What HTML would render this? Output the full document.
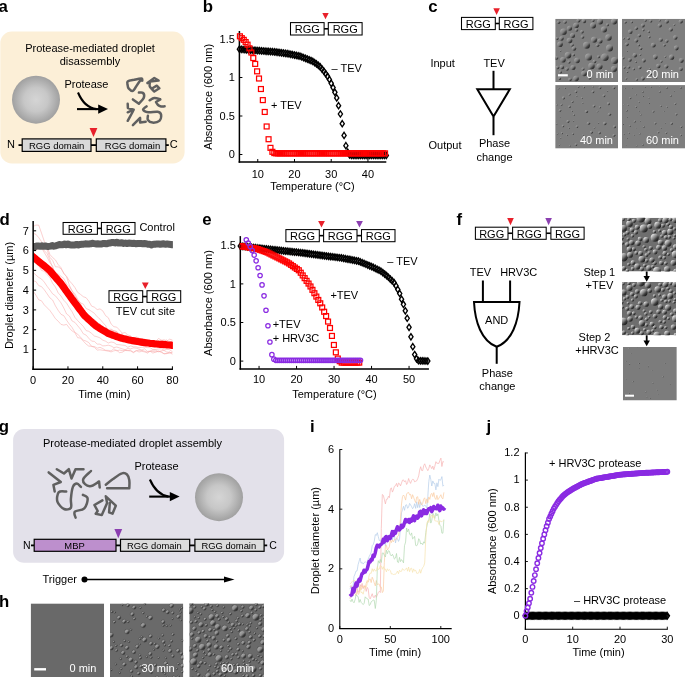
<!DOCTYPE html>
<html><head><meta charset="utf-8"><title>Figure</title>
<style>html,body{margin:0;padding:0;background:#fff}svg{display:block}text{font-family:"Liberation Sans",Arial,Helvetica,sans-serif}</style>
</head><body>
<svg width="685" height="677" viewBox="0 0 685 677">
<defs>
<radialGradient id="sph" cx="0.5" cy="0.5" r="0.5"><stop offset="0" stop-color="#d5d5d5"/><stop offset="0.5" stop-color="#c7c7c7"/><stop offset="1" stop-color="#a0a0a0"/></radialGradient>
<linearGradient id="dic" x1="0" y1="0" x2="1" y2="1"><stop offset="0.15" stop-color="#a6a6a6"/><stop offset="0.34" stop-color="#8f8f8f"/><stop offset="0.5" stop-color="#7e7e7e"/><stop offset="0.66" stop-color="#484848"/><stop offset="0.82" stop-color="#2a2a2a"/></linearGradient>
<linearGradient id="dicf" x1="0" y1="0" x2="1" y2="1"><stop offset="0.13" stop-color="#f0f0f0"/><stop offset="0.3" stop-color="#b4b4b4"/><stop offset="0.48" stop-color="#808080"/><stop offset="0.64" stop-color="#404040"/><stop offset="0.8" stop-color="#222"/></linearGradient>
<linearGradient id="dich" x1="0" y1="0" x2="1" y2="1"><stop offset="0.1" stop-color="#5a5a5a"/><stop offset="0.24" stop-color="#a6a6a6"/><stop offset="0.5" stop-color="#8e8e8e"/><stop offset="0.68" stop-color="#404040"/><stop offset="0.84" stop-color="#242424"/></linearGradient>
</defs>
<rect width="685" height="677" fill="#fff"/>
<text x="-1.5" y="12" font-size="16.8" font-weight="bold" fill="#000">a</text>
<rect x="0.30" y="31.60" width="184.30" height="131.80" fill="#fcefd7" stroke="none" stroke-width="1" rx="11.5"/>
<text x="90" y="51.8" font-size="11" text-anchor="middle" fill="#000">Protease-mediated droplet</text>
<text x="90" y="64.8" font-size="11" text-anchor="middle" fill="#000">disassembly</text>
<circle cx="36" cy="99.7" r="24" fill="url(#sph)"/>
<text x="64.4" y="87.7" font-size="11" fill="#000">Protease</text>
<path d="M78 92.5C82 102 87 108 96.5 109.1" fill="none" stroke="#000" stroke-width="2.1"/>
<line x1="77.00" y1="109.10" x2="100.00" y2="109.10" stroke="#000" stroke-width="2.1"/>
<polygon points="98.2,104.4 108,109.1 98.2,113.8" fill="#000"/>
<g fill="none" stroke="#606060" stroke-width="2.5" stroke-linecap="round" stroke-linejoin="round"><path d="M142.3 80.6C142.2 80.3 142.6 78.5 141.4 78.4C140.2 78.3 136.1 79.3 134.0 79.8C131.9 80.2 128.7 80.6 127.7 81.4C126.7 82.2 127.5 84.0 127.6 85.0C127.7 86.0 127.8 87.4 128.6 88.3C129.4 89.2 131.6 91.4 132.9 90.9C134.2 90.4 135.9 86.5 137.1 84.9C138.3 83.3 140.1 80.8 140.6 80.1"/><path d="M147.4 83.1L154.3 78.0L158.6 80.6L150.0 81.6M150.0 81.6C150.0 82.4 149.1 84.9 149.8 86.6C150.5 88.2 153.6 90.7 154.3 91.5M154.3 91.5L159.4 88.3L156.8 85.7L152.0 88.5"/><path d="M138.9 92.6C139.7 92.7 142.1 92.0 143.1 93.0C144.1 94.0 144.6 95.6 143.8 97.7C143.0 99.8 139.9 102.5 138.9 103.7M138.9 103.7L132.9 99.4"/><path d="M149.6 100.3C150.5 99.9 152.2 98.3 154.3 98.1C156.4 97.9 159.1 99.1 160.3 99.4M160.3 99.4L156.0 102.0M156.0 102.0C156.4 102.6 157.0 104.1 158.0 105.0C159.0 105.9 159.8 106.2 161.1 106.5C162.4 106.8 163.9 106.3 164.6 106.3"/><path d="M127.7 103.7L127.9 108.0L133.7 109.7L127.7 112.3M133.7 109.7C133.3 110.4 132.5 112.2 131.5 114.0C130.5 115.8 128.3 119.7 127.7 120.8"/><path d="M146.6 106.3C146.0 106.9 142.8 108.7 143.1 109.7C143.4 110.7 145.9 112.0 148.3 112.3C150.7 112.6 155.6 111.4 157.7 111.8C159.8 112.2 160.8 113.3 161.1 114.8C161.4 116.3 160.8 119.5 159.4 120.8C158.0 122.1 154.5 122.7 152.6 122.6C150.7 122.5 148.7 121.2 147.9 120.0C147.1 118.8 147.9 116.4 147.9 115.7"/><path d="M132.9 125.1L140.1 117.8L140.1 122.6L145.7 121.7"/></g>
<text x="7" y="148.3" font-size="11" fill="#000">N</text>
<line x1="18.50" y1="145.10" x2="22.20" y2="145.10" stroke="#000" stroke-width="1.8"/>
<rect x="22.20" y="138.90" width="68.80" height="12.50" fill="#d9d9d9" stroke="#000" stroke-width="1.2"/>
<line x1="91.00" y1="145.10" x2="96.30" y2="145.10" stroke="#000" stroke-width="1.8"/>
<rect x="96.30" y="138.90" width="69.60" height="12.50" fill="#d9d9d9" stroke="#000" stroke-width="1.2"/>
<line x1="165.90" y1="145.10" x2="168.80" y2="145.10" stroke="#000" stroke-width="1.8"/>
<text x="56.6" y="148.8" font-size="9.5" text-anchor="middle" fill="#000">RGG domain</text>
<text x="132.5" y="148.8" font-size="9.5" text-anchor="middle" fill="#000">RGG domain</text>
<text x="169.8" y="148.3" font-size="11" fill="#000">C</text>
<polygon points="89.60,128.00 97.40,128.00 93.50,137.00" fill="#e8202a"/>
<text x="202.8" y="12" font-size="16.8" font-weight="bold" fill="#000">b</text>
<rect x="290.50" y="22.60" width="33.60" height="12.40" fill="#fff" stroke="#000" stroke-width="1.05"/>
<text x="307.3" y="33.2" font-size="11" text-anchor="middle" fill="#000">RGG</text>
<line x1="324.10" y1="28.80" x2="328.30" y2="28.80" stroke="#000" stroke-width="1.6"/>
<rect x="328.30" y="22.60" width="33.80" height="12.40" fill="#fff" stroke="#000" stroke-width="1.05"/>
<text x="345.2" y="33.2" font-size="11" text-anchor="middle" fill="#000">RGG</text>
<polygon points="322.30,12.90 328.70,12.90 325.50,19.20" fill="#e8202a"/>
<line x1="239.40" y1="31.00" x2="239.40" y2="162.70" stroke="#000" stroke-width="1.5"/>
<line x1="238.65" y1="162.00" x2="386.30" y2="162.00" stroke="#000" stroke-width="1.5"/>
<line x1="239.40" y1="39.00" x2="242.40" y2="39.00" stroke="#000" stroke-width="1"/>
<text x="234.9" y="42.9" font-size="11" text-anchor="end" fill="#000">1.5</text>
<line x1="239.40" y1="77.50" x2="242.40" y2="77.50" stroke="#000" stroke-width="1"/>
<text x="234.9" y="81.4" font-size="11" text-anchor="end" fill="#000">1</text>
<line x1="239.40" y1="116.00" x2="242.40" y2="116.00" stroke="#000" stroke-width="1"/>
<text x="234.9" y="119.9" font-size="11" text-anchor="end" fill="#000">0.5</text>
<line x1="239.40" y1="154.50" x2="242.40" y2="154.50" stroke="#000" stroke-width="1"/>
<text x="234.9" y="158.4" font-size="11" text-anchor="end" fill="#000">0</text>
<line x1="257.76" y1="162.00" x2="257.76" y2="159.00" stroke="#000" stroke-width="1"/>
<text x="257.76" y="177.5" font-size="11" text-anchor="middle" fill="#000">10</text>
<line x1="294.49" y1="162.00" x2="294.49" y2="159.00" stroke="#000" stroke-width="1"/>
<text x="294.49" y="177.5" font-size="11" text-anchor="middle" fill="#000">20</text>
<line x1="331.21" y1="162.00" x2="331.21" y2="159.00" stroke="#000" stroke-width="1"/>
<text x="331.21" y="177.5" font-size="11" text-anchor="middle" fill="#000">30</text>
<line x1="367.94" y1="162.00" x2="367.94" y2="159.00" stroke="#000" stroke-width="1"/>
<text x="367.94" y="177.5" font-size="11" text-anchor="middle" fill="#000">40</text>
<text x="312.5" y="190.3" font-size="11" text-anchor="middle" fill="#000">Temperature (°C)</text>
<text x="212.5" y="96.8" font-size="11" text-anchor="middle" fill="#000" transform="rotate(-90 212.5 96.8)">Absorbance (600 nm)</text>
<g fill="none" stroke="#000" stroke-width="1.35"><path d="M239.40 46.09L241.50 49.24L239.40 52.39L237.30 49.24Z"/><path d="M241.24 46.22L243.34 49.37L241.24 52.52L239.14 49.37Z"/><path d="M243.07 46.35L245.17 49.50L243.07 52.65L240.97 49.50Z"/><path d="M244.91 46.48L247.01 49.63L244.91 52.78L242.81 49.63Z"/><path d="M246.75 46.61L248.84 49.76L246.75 52.91L244.65 49.76Z"/><path d="M248.58 46.75L250.68 49.90L248.58 53.05L246.48 49.90Z"/><path d="M250.42 46.88L252.52 50.03L250.42 53.18L248.32 50.03Z"/><path d="M252.25 47.01L254.35 50.16L252.25 53.31L250.15 50.16Z"/><path d="M254.09 47.14L256.19 50.29L254.09 53.44L251.99 50.29Z"/><path d="M255.93 47.27L258.03 50.42L255.93 53.57L253.83 50.42Z"/><path d="M257.76 47.40L259.86 50.55L257.76 53.70L255.66 50.55Z"/><path d="M259.60 47.55L261.70 50.70L259.60 53.85L257.50 50.70Z"/><path d="M261.44 47.70L263.54 50.85L261.44 54.00L259.33 50.85Z"/><path d="M263.27 47.85L265.37 51.00L263.27 54.15L261.17 51.00Z"/><path d="M265.11 48.00L267.21 51.15L265.11 54.30L263.01 51.15Z"/><path d="M266.94 48.15L269.04 51.30L266.94 54.45L264.84 51.30Z"/><path d="M268.78 48.29L270.88 51.44L268.78 54.59L266.68 51.44Z"/><path d="M270.62 48.44L272.72 51.59L270.62 54.74L268.52 51.59Z"/><path d="M272.45 48.59L274.55 51.74L272.45 54.89L270.35 51.74Z"/><path d="M274.29 48.74L276.39 51.89L274.29 55.04L272.19 51.89Z"/><path d="M276.12 48.96L278.23 52.11L276.12 55.26L274.02 52.11Z"/><path d="M277.96 49.22L280.06 52.37L277.96 55.52L275.86 52.37Z"/><path d="M279.80 49.47L281.90 52.62L279.80 55.77L277.70 52.62Z"/><path d="M281.63 49.72L283.73 52.87L281.63 56.02L279.53 52.87Z"/><path d="M283.47 49.97L285.57 53.12L283.47 56.27L281.37 53.12Z"/><path d="M285.31 50.23L287.41 53.38L285.31 56.53L283.21 53.38Z"/><path d="M287.14 50.48L289.24 53.63L287.14 56.78L285.04 53.63Z"/><path d="M288.98 50.84L291.08 53.99L288.98 57.14L286.88 53.99Z"/><path d="M290.81 51.20L292.92 54.35L290.81 57.50L288.71 54.35Z"/><path d="M292.65 51.57L294.75 54.72L292.65 57.87L290.55 54.72Z"/><path d="M294.49 51.93L296.59 55.08L294.49 58.23L292.39 55.08Z"/><path d="M296.32 52.29L298.42 55.44L296.32 58.59L294.22 55.44Z"/><path d="M298.16 52.65L300.26 55.80L298.16 58.95L296.06 55.80Z"/><path d="M300.00 53.09L302.10 56.24L300.00 59.39L297.90 56.24Z"/><path d="M301.83 53.80L303.93 56.95L301.83 60.10L299.73 56.95Z"/><path d="M303.67 54.51L305.77 57.66L303.67 60.81L301.57 57.66Z"/><path d="M305.50 55.23L307.61 58.38L305.50 61.53L303.40 58.38Z"/><path d="M307.34 55.94L309.44 59.09L307.34 62.24L305.24 59.09Z"/><path d="M309.18 56.65L311.28 59.80L309.18 62.95L307.08 59.80Z"/><path d="M311.01 57.37L313.11 60.52L311.01 63.67L308.91 60.52Z"/><path d="M312.85 58.30L314.95 61.45L312.85 64.60L310.75 61.45Z"/><path d="M314.69 59.57L316.79 62.72L314.69 65.87L312.59 62.72Z"/><path d="M316.52 60.84L318.62 63.99L316.52 67.14L314.42 63.99Z"/><path d="M318.36 62.11L320.46 65.26L318.36 68.41L316.26 65.26Z"/><path d="M320.19 63.73L322.30 66.88L320.19 70.03L318.09 66.88Z"/><path d="M322.03 65.87L324.13 69.02L322.03 72.17L319.93 69.02Z"/><path d="M323.87 68.01L325.97 71.16L323.87 74.31L321.77 71.16Z"/><path d="M325.70 70.52L327.80 73.67L325.70 76.82L323.60 73.67Z"/><path d="M327.54 73.20L329.64 76.35L327.54 79.50L325.44 76.35Z"/><path d="M329.38 76.27L331.48 79.42L329.38 82.58L327.28 79.42Z"/><path d="M331.21 80.20L333.31 83.35L331.21 86.50L329.11 83.35Z"/><path d="M333.05 84.36L335.15 87.51L333.05 90.66L330.95 87.51Z"/><path d="M334.88 89.13L336.99 92.28L334.88 95.43L332.78 92.28Z"/><path d="M336.72 94.75L338.82 97.91L336.72 101.06L334.62 97.91Z"/><path d="M338.56 102.53L340.66 105.68L338.56 108.83L336.46 105.68Z"/><path d="M340.39 110.85L342.49 114.00L340.39 117.15L338.29 114.00Z"/><path d="M342.23 120.55L344.33 123.70L342.23 126.85L340.13 123.70Z"/><path d="M344.07 132.33L346.17 135.48L344.07 138.63L341.97 135.48Z"/><path d="M345.90 142.50L348.00 145.65L345.90 148.80L343.80 145.65Z"/><path d="M347.74 149.04L349.84 152.19L347.74 155.34L345.64 152.19Z"/><path d="M349.57 151.73L351.68 154.88L349.57 158.03L347.47 154.88Z"/><path d="M351.41 152.27L353.51 155.42L351.41 158.57L349.31 155.42Z"/><path d="M353.25 152.27L355.35 155.42L353.25 158.57L351.15 155.42Z"/><path d="M355.08 152.27L357.18 155.42L355.08 158.57L352.98 155.42Z"/><path d="M356.92 152.27L359.02 155.42L356.92 158.57L354.82 155.42Z"/><path d="M358.76 152.27L360.86 155.42L358.76 158.57L356.66 155.42Z"/><path d="M360.59 152.27L362.69 155.42L360.59 158.57L358.49 155.42Z"/><path d="M362.43 152.27L364.53 155.42L362.43 158.57L360.33 155.42Z"/><path d="M364.26 152.27L366.37 155.42L364.26 158.57L362.16 155.42Z"/><path d="M366.10 152.27L368.20 155.42L366.10 158.57L364.00 155.42Z"/><path d="M367.94 152.27L370.04 155.42L367.94 158.57L365.84 155.42Z"/><path d="M369.77 152.27L371.87 155.42L369.77 158.57L367.67 155.42Z"/><path d="M371.61 152.27L373.71 155.42L371.61 158.57L369.51 155.42Z"/><path d="M373.45 152.27L375.55 155.42L373.45 158.57L371.35 155.42Z"/><path d="M375.28 152.27L377.38 155.42L375.28 158.57L373.18 155.42Z"/><path d="M377.12 152.27L379.22 155.42L377.12 158.57L375.02 155.42Z"/><path d="M378.96 152.27L381.06 155.42L378.96 158.57L376.86 155.42Z"/><path d="M380.79 152.27L382.89 155.42L380.79 158.57L378.69 155.42Z"/><path d="M382.63 152.27L384.73 155.42L382.63 158.57L380.53 155.42Z"/><path d="M384.46 152.27L386.56 155.42L384.46 158.57L382.36 155.42Z"/><path d="M386.30 152.27L388.40 155.42L386.30 158.57L384.20 155.42Z"/></g>
<g fill="none" stroke="#f00" stroke-width="1.25"><rect x="237.46" y="33.86" width="4.9" height="4.9"/><rect x="239.37" y="35.72" width="4.9" height="4.9"/><rect x="241.28" y="37.41" width="4.9" height="4.9"/><rect x="243.19" y="39.60" width="4.9" height="4.9"/><rect x="245.10" y="42.22" width="4.9" height="4.9"/><rect x="247.01" y="45.86" width="4.9" height="4.9"/><rect x="248.92" y="50.06" width="4.9" height="4.9"/><rect x="250.83" y="55.62" width="4.9" height="4.9"/><rect x="252.74" y="61.46" width="4.9" height="4.9"/><rect x="254.65" y="68.89" width="4.9" height="4.9"/><rect x="256.56" y="76.06" width="4.9" height="4.9"/><rect x="258.47" y="86.57" width="4.9" height="4.9"/><rect x="260.38" y="97.66" width="4.9" height="4.9"/><rect x="262.29" y="109.51" width="4.9" height="4.9"/><rect x="264.20" y="124.02" width="4.9" height="4.9"/><rect x="266.11" y="136.78" width="4.9" height="4.9"/><rect x="268.02" y="145.39" width="4.9" height="4.9"/><rect x="269.93" y="149.38" width="4.9" height="4.9"/><rect x="271.84" y="150.64" width="4.9" height="4.9"/><rect x="273.75" y="150.90" width="4.9" height="4.9"/><rect x="275.66" y="150.90" width="4.9" height="4.9"/><rect x="277.57" y="150.90" width="4.9" height="4.9"/><rect x="279.48" y="150.90" width="4.9" height="4.9"/><rect x="281.39" y="150.90" width="4.9" height="4.9"/><rect x="283.30" y="150.90" width="4.9" height="4.9"/><rect x="285.21" y="150.90" width="4.9" height="4.9"/><rect x="287.12" y="150.90" width="4.9" height="4.9"/><rect x="289.03" y="150.90" width="4.9" height="4.9"/><rect x="290.94" y="150.90" width="4.9" height="4.9"/><rect x="292.85" y="150.90" width="4.9" height="4.9"/><rect x="294.76" y="150.90" width="4.9" height="4.9"/><rect x="296.66" y="150.90" width="4.9" height="4.9"/><rect x="298.57" y="150.90" width="4.9" height="4.9"/><rect x="300.48" y="150.90" width="4.9" height="4.9"/><rect x="302.39" y="150.90" width="4.9" height="4.9"/><rect x="304.30" y="150.90" width="4.9" height="4.9"/><rect x="306.21" y="150.90" width="4.9" height="4.9"/><rect x="308.12" y="150.90" width="4.9" height="4.9"/><rect x="310.03" y="150.90" width="4.9" height="4.9"/><rect x="311.94" y="150.90" width="4.9" height="4.9"/><rect x="313.85" y="150.90" width="4.9" height="4.9"/><rect x="315.76" y="150.90" width="4.9" height="4.9"/><rect x="317.67" y="150.90" width="4.9" height="4.9"/><rect x="319.58" y="150.90" width="4.9" height="4.9"/><rect x="321.49" y="150.90" width="4.9" height="4.9"/><rect x="323.40" y="150.90" width="4.9" height="4.9"/><rect x="325.31" y="150.90" width="4.9" height="4.9"/><rect x="327.22" y="150.90" width="4.9" height="4.9"/><rect x="329.13" y="150.90" width="4.9" height="4.9"/><rect x="331.04" y="150.90" width="4.9" height="4.9"/><rect x="332.95" y="150.90" width="4.9" height="4.9"/><rect x="334.86" y="150.90" width="4.9" height="4.9"/><rect x="336.77" y="150.90" width="4.9" height="4.9"/><rect x="338.68" y="150.90" width="4.9" height="4.9"/><rect x="340.59" y="150.90" width="4.9" height="4.9"/><rect x="342.50" y="150.90" width="4.9" height="4.9"/><rect x="344.41" y="150.90" width="4.9" height="4.9"/><rect x="346.32" y="150.90" width="4.9" height="4.9"/><rect x="348.23" y="150.90" width="4.9" height="4.9"/><rect x="350.14" y="150.90" width="4.9" height="4.9"/><rect x="352.05" y="150.90" width="4.9" height="4.9"/><rect x="353.96" y="150.90" width="4.9" height="4.9"/><rect x="355.87" y="150.90" width="4.9" height="4.9"/><rect x="357.78" y="150.90" width="4.9" height="4.9"/><rect x="359.68" y="150.90" width="4.9" height="4.9"/><rect x="361.59" y="150.90" width="4.9" height="4.9"/><rect x="363.50" y="150.90" width="4.9" height="4.9"/><rect x="365.41" y="150.90" width="4.9" height="4.9"/><rect x="367.32" y="150.90" width="4.9" height="4.9"/><rect x="369.23" y="150.90" width="4.9" height="4.9"/><rect x="371.14" y="150.90" width="4.9" height="4.9"/><rect x="373.05" y="150.90" width="4.9" height="4.9"/><rect x="374.96" y="150.90" width="4.9" height="4.9"/><rect x="376.87" y="150.90" width="4.9" height="4.9"/><rect x="378.78" y="150.90" width="4.9" height="4.9"/><rect x="380.69" y="150.90" width="4.9" height="4.9"/><rect x="382.60" y="150.90" width="4.9" height="4.9"/></g>
<text x="331.5" y="71.9" font-size="11" fill="#000">– TEV</text>
<text x="271" y="108.5" font-size="11" fill="#000">+ TEV</text>
<text x="428.2" y="12" font-size="16.8" font-weight="bold" fill="#000">c</text>
<rect x="461.50" y="17.40" width="33.80" height="12.20" fill="#fff" stroke="#000" stroke-width="1.05"/>
<text x="478.4" y="27.8" font-size="11" text-anchor="middle" fill="#000">RGG</text>
<line x1="495.30" y1="23.50" x2="499.30" y2="23.50" stroke="#000" stroke-width="1.6"/>
<rect x="499.30" y="17.40" width="33.60" height="12.20" fill="#fff" stroke="#000" stroke-width="1.05"/>
<text x="516.1" y="27.8" font-size="11" text-anchor="middle" fill="#000">RGG</text>
<polygon points="493.30,8.30 499.90,8.30 496.60,14.90" fill="#e8202a"/>
<text x="430.4" y="66.5" font-size="11" fill="#000">Input</text>
<text x="494.1" y="66.5" font-size="11" text-anchor="middle" fill="#000">TEV</text>
<line x1="493.50" y1="70.80" x2="493.50" y2="89.00" stroke="#000" stroke-width="2"/>
<polygon points="477.3,89.3 509.8,89.3 493.5,116.6" fill="none" stroke="#000" stroke-width="2" stroke-linejoin="miter"/>
<line x1="493.50" y1="117.00" x2="493.50" y2="135.20" stroke="#000" stroke-width="2"/>
<text x="428.5" y="149.1" font-size="11" fill="#000">Output</text>
<text x="494.5" y="147.4" font-size="11" text-anchor="middle" fill="#000">Phase</text>
<text x="494.5" y="160.9" font-size="11" text-anchor="middle" fill="#000">change</text>
<clipPath id="mcc0"><rect x="555.20" y="18.80" width="62.80" height="63.30"/></clipPath>
<g clip-path="url(#mcc0)">
<rect x="555.20" y="18.80" width="62.80" height="63.30" fill="#7e7e7e"/>
<circle cx="558.50" cy="22.20" r="1.80" fill="url(#dic)"/>
<circle cx="565.00" cy="22.00" r="1.80" fill="url(#dic)"/>
<circle cx="578.50" cy="20.50" r="2.00" fill="url(#dic)"/>
<circle cx="584.00" cy="21.00" r="2.20" fill="url(#dic)"/>
<circle cx="593.00" cy="20.50" r="1.50" fill="url(#dic)"/>
<circle cx="600.00" cy="21.50" r="3.00" fill="url(#dic)"/>
<circle cx="614.00" cy="21.50" r="3.00" fill="url(#dic)"/>
<circle cx="607.50" cy="24.80" r="1.50" fill="url(#dic)"/>
<circle cx="593.00" cy="25.50" r="3.00" fill="url(#dic)"/>
<circle cx="576.00" cy="25.50" r="2.80" fill="url(#dic)"/>
<circle cx="569.50" cy="28.20" r="2.50" fill="url(#dic)"/>
<circle cx="576.50" cy="30.00" r="1.80" fill="url(#dic)"/>
<circle cx="582.00" cy="31.80" r="1.80" fill="url(#dic)"/>
<circle cx="563.50" cy="31.80" r="3.30" fill="url(#dic)"/>
<circle cx="604.00" cy="29.50" r="3.00" fill="url(#dic)"/>
<circle cx="572.50" cy="35.50" r="2.50" fill="url(#dic)"/>
<circle cx="582.50" cy="37.00" r="1.80" fill="url(#dic)"/>
<circle cx="608.50" cy="37.50" r="3.20" fill="url(#dic)"/>
<circle cx="557.00" cy="38.50" r="1.50" fill="url(#dic)"/>
<circle cx="561.50" cy="38.50" r="2.20" fill="url(#dic)"/>
<circle cx="569.50" cy="40.50" r="2.80" fill="url(#dic)"/>
<circle cx="594.00" cy="39.80" r="3.00" fill="url(#dic)"/>
<circle cx="600.00" cy="41.00" r="2.50" fill="url(#dic)"/>
<circle cx="560.00" cy="44.30" r="2.80" fill="url(#dic)"/>
<circle cx="572.00" cy="45.00" r="1.80" fill="url(#dic)"/>
<circle cx="586.50" cy="45.20" r="3.50" fill="url(#dic)"/>
<circle cx="597.50" cy="45.20" r="1.80" fill="url(#dic)"/>
<circle cx="574.00" cy="48.50" r="2.20" fill="url(#dic)"/>
<circle cx="609.50" cy="48.00" r="3.50" fill="url(#dic)"/>
<circle cx="560.50" cy="51.00" r="0.80" fill="url(#dic)"/>
<circle cx="568.00" cy="55.20" r="3.20" fill="url(#dic)"/>
<circle cx="573.50" cy="54.80" r="1.50" fill="url(#dic)"/>
<circle cx="588.50" cy="57.00" r="3.50" fill="url(#dic)"/>
<circle cx="598.50" cy="56.80" r="1.50" fill="url(#dic)"/>
<circle cx="604.80" cy="57.20" r="3.80" fill="url(#dic)"/>
<circle cx="556.50" cy="58.00" r="1.80" fill="url(#dic)"/>
<circle cx="563.00" cy="59.80" r="2.80" fill="url(#dic)"/>
<circle cx="569.00" cy="62.00" r="1.50" fill="url(#dic)"/>
<circle cx="577.00" cy="60.50" r="2.80" fill="url(#dic)"/>
<circle cx="594.50" cy="61.50" r="1.80" fill="url(#dic)"/>
<circle cx="614.50" cy="60.50" r="3.50" fill="url(#dic)"/>
<circle cx="591.50" cy="66.00" r="3.20" fill="url(#dic)"/>
<circle cx="599.50" cy="66.50" r="3.00" fill="url(#dic)"/>
<circle cx="557.50" cy="67.50" r="1.80" fill="url(#dic)"/>
<circle cx="562.00" cy="67.00" r="2.20" fill="url(#dic)"/>
<circle cx="567.00" cy="69.00" r="1.80" fill="url(#dic)"/>
<circle cx="573.00" cy="67.50" r="2.50" fill="url(#dic)"/>
<circle cx="583.00" cy="69.00" r="1.50" fill="url(#dic)"/>
<circle cx="614.00" cy="69.00" r="3.00" fill="url(#dic)"/>
<circle cx="560.50" cy="72.00" r="1.50" fill="url(#dic)"/>
<circle cx="584.00" cy="73.50" r="2.80" fill="url(#dic)"/>
<circle cx="576.00" cy="78.50" r="2.80" fill="url(#dic)"/>
<circle cx="570.00" cy="79.50" r="1.80" fill="url(#dic)"/>
<circle cx="559.50" cy="78.50" r="1.50" fill="url(#dic)"/>
<circle cx="589.50" cy="78.00" r="1.50" fill="url(#dic)"/>
</g>
<text x="613.4" y="77.8" font-size="11" text-anchor="end" fill="#fff">0 min</text>
<clipPath id="mcc1"><rect x="622.00" y="18.80" width="63.00" height="63.30"/></clipPath>
<g clip-path="url(#mcc1)">
<rect x="622.00" y="18.80" width="63.00" height="63.30" fill="#7e7e7e"/>
<circle cx="625.30" cy="22.20" r="1.22" fill="url(#dic)"/>
<circle cx="631.80" cy="22.00" r="1.22" fill="url(#dic)"/>
<circle cx="645.30" cy="20.50" r="1.36" fill="url(#dic)"/>
<circle cx="650.80" cy="21.00" r="1.50" fill="url(#dic)"/>
<circle cx="659.80" cy="20.50" r="1.02" fill="url(#dic)"/>
<circle cx="666.80" cy="21.50" r="2.04" fill="url(#dic)"/>
<circle cx="680.80" cy="21.50" r="2.04" fill="url(#dic)"/>
<circle cx="674.30" cy="24.80" r="1.02" fill="url(#dic)"/>
<circle cx="659.80" cy="25.50" r="2.04" fill="url(#dic)"/>
<circle cx="642.80" cy="25.50" r="1.90" fill="url(#dic)"/>
<circle cx="636.30" cy="28.20" r="1.70" fill="url(#dic)"/>
<circle cx="643.30" cy="30.00" r="1.22" fill="url(#dic)"/>
<circle cx="648.80" cy="31.80" r="1.22" fill="url(#dic)"/>
<circle cx="630.30" cy="31.80" r="2.24" fill="url(#dic)"/>
<circle cx="670.80" cy="29.50" r="2.04" fill="url(#dic)"/>
<circle cx="639.30" cy="35.50" r="1.70" fill="url(#dic)"/>
<circle cx="649.30" cy="37.00" r="1.22" fill="url(#dic)"/>
<circle cx="675.30" cy="37.50" r="2.18" fill="url(#dic)"/>
<circle cx="623.80" cy="38.50" r="1.02" fill="url(#dic)"/>
<circle cx="628.30" cy="38.50" r="1.50" fill="url(#dic)"/>
<circle cx="636.30" cy="40.50" r="1.90" fill="url(#dic)"/>
<circle cx="660.80" cy="39.80" r="2.04" fill="url(#dic)"/>
<circle cx="666.80" cy="41.00" r="1.70" fill="url(#dic)"/>
<circle cx="626.80" cy="44.30" r="1.90" fill="url(#dic)"/>
<circle cx="638.80" cy="45.00" r="1.22" fill="url(#dic)"/>
<circle cx="653.30" cy="45.20" r="2.38" fill="url(#dic)"/>
<circle cx="664.30" cy="45.20" r="1.22" fill="url(#dic)"/>
<circle cx="640.80" cy="48.50" r="1.50" fill="url(#dic)"/>
<circle cx="676.30" cy="48.00" r="2.38" fill="url(#dic)"/>
<circle cx="627.30" cy="51.00" r="0.54" fill="url(#dic)"/>
<circle cx="634.80" cy="55.20" r="2.18" fill="url(#dic)"/>
<circle cx="640.30" cy="54.80" r="1.02" fill="url(#dic)"/>
<circle cx="655.30" cy="57.00" r="2.38" fill="url(#dic)"/>
<circle cx="665.30" cy="56.80" r="1.02" fill="url(#dic)"/>
<circle cx="671.60" cy="57.20" r="2.58" fill="url(#dic)"/>
<circle cx="623.30" cy="58.00" r="1.22" fill="url(#dic)"/>
<circle cx="629.80" cy="59.80" r="1.90" fill="url(#dic)"/>
<circle cx="635.80" cy="62.00" r="1.02" fill="url(#dic)"/>
<circle cx="643.80" cy="60.50" r="1.90" fill="url(#dic)"/>
<circle cx="661.30" cy="61.50" r="1.22" fill="url(#dic)"/>
<circle cx="681.30" cy="60.50" r="2.38" fill="url(#dic)"/>
<circle cx="658.30" cy="66.00" r="2.18" fill="url(#dic)"/>
<circle cx="666.30" cy="66.50" r="2.04" fill="url(#dic)"/>
<circle cx="624.30" cy="67.50" r="1.22" fill="url(#dic)"/>
<circle cx="628.80" cy="67.00" r="1.50" fill="url(#dic)"/>
<circle cx="633.80" cy="69.00" r="1.22" fill="url(#dic)"/>
<circle cx="639.80" cy="67.50" r="1.70" fill="url(#dic)"/>
<circle cx="649.80" cy="69.00" r="1.02" fill="url(#dic)"/>
<circle cx="680.80" cy="69.00" r="2.04" fill="url(#dic)"/>
<circle cx="627.30" cy="72.00" r="1.02" fill="url(#dic)"/>
<circle cx="650.80" cy="73.50" r="1.90" fill="url(#dic)"/>
<circle cx="642.80" cy="78.50" r="1.90" fill="url(#dic)"/>
<circle cx="636.80" cy="79.50" r="1.22" fill="url(#dic)"/>
<circle cx="626.30" cy="78.50" r="1.02" fill="url(#dic)"/>
<circle cx="656.30" cy="78.00" r="1.02" fill="url(#dic)"/>
</g>
<text x="679" y="77.8" font-size="11" text-anchor="end" fill="#fff">20 min</text>
<clipPath id="mcc2"><rect x="555.20" y="85.10" width="62.80" height="63.50"/></clipPath>
<g clip-path="url(#mcc2)">
<rect x="555.20" y="85.10" width="62.80" height="63.50" fill="#7e7e7e"/>
<circle cx="558.50" cy="88.50" r="0.81" fill="url(#dic)"/>
<circle cx="565.00" cy="88.30" r="0.81" fill="url(#dic)"/>
<circle cx="578.50" cy="86.80" r="0.90" fill="url(#dic)"/>
<circle cx="584.00" cy="87.30" r="0.99" fill="url(#dic)"/>
<circle cx="593.00" cy="86.80" r="0.68" fill="url(#dic)"/>
<circle cx="600.00" cy="87.80" r="1.35" fill="url(#dic)"/>
<circle cx="614.00" cy="87.80" r="1.35" fill="url(#dic)"/>
<circle cx="607.50" cy="91.10" r="0.68" fill="url(#dic)"/>
<circle cx="593.00" cy="91.80" r="1.35" fill="url(#dic)"/>
<circle cx="576.00" cy="91.80" r="1.26" fill="url(#dic)"/>
<circle cx="569.50" cy="94.50" r="1.12" fill="url(#dic)"/>
<circle cx="576.50" cy="96.30" r="0.81" fill="url(#dic)"/>
<circle cx="582.00" cy="98.10" r="0.81" fill="url(#dic)"/>
<circle cx="563.50" cy="98.10" r="1.48" fill="url(#dic)"/>
<circle cx="604.00" cy="95.80" r="1.35" fill="url(#dic)"/>
<circle cx="572.50" cy="101.80" r="1.12" fill="url(#dic)"/>
<circle cx="582.50" cy="103.30" r="0.81" fill="url(#dic)"/>
<circle cx="608.50" cy="103.80" r="1.44" fill="url(#dic)"/>
<circle cx="557.00" cy="104.80" r="0.68" fill="url(#dic)"/>
<circle cx="561.50" cy="104.80" r="0.99" fill="url(#dic)"/>
<circle cx="569.50" cy="106.80" r="1.26" fill="url(#dic)"/>
<circle cx="594.00" cy="106.10" r="1.35" fill="url(#dic)"/>
<circle cx="600.00" cy="107.30" r="1.12" fill="url(#dic)"/>
<circle cx="560.00" cy="110.60" r="1.26" fill="url(#dic)"/>
<circle cx="572.00" cy="111.30" r="0.81" fill="url(#dic)"/>
<circle cx="586.50" cy="111.50" r="1.57" fill="url(#dic)"/>
<circle cx="597.50" cy="111.50" r="0.81" fill="url(#dic)"/>
<circle cx="574.00" cy="114.80" r="0.99" fill="url(#dic)"/>
<circle cx="609.50" cy="114.30" r="1.57" fill="url(#dic)"/>
<circle cx="560.50" cy="117.30" r="0.45" fill="url(#dic)"/>
<circle cx="568.00" cy="121.50" r="1.44" fill="url(#dic)"/>
<circle cx="573.50" cy="121.10" r="0.68" fill="url(#dic)"/>
<circle cx="588.50" cy="123.30" r="1.57" fill="url(#dic)"/>
<circle cx="598.50" cy="123.10" r="0.68" fill="url(#dic)"/>
<circle cx="604.80" cy="123.50" r="1.71" fill="url(#dic)"/>
<circle cx="556.50" cy="124.30" r="0.81" fill="url(#dic)"/>
<circle cx="563.00" cy="126.10" r="1.26" fill="url(#dic)"/>
<circle cx="569.00" cy="128.30" r="0.68" fill="url(#dic)"/>
<circle cx="577.00" cy="126.80" r="1.26" fill="url(#dic)"/>
<circle cx="594.50" cy="127.80" r="0.81" fill="url(#dic)"/>
<circle cx="614.50" cy="126.80" r="1.57" fill="url(#dic)"/>
<circle cx="591.50" cy="132.30" r="1.44" fill="url(#dic)"/>
<circle cx="599.50" cy="132.80" r="1.35" fill="url(#dic)"/>
<circle cx="557.50" cy="133.80" r="0.81" fill="url(#dic)"/>
<circle cx="562.00" cy="133.30" r="0.99" fill="url(#dic)"/>
<circle cx="567.00" cy="135.30" r="0.81" fill="url(#dic)"/>
<circle cx="573.00" cy="133.80" r="1.12" fill="url(#dic)"/>
<circle cx="583.00" cy="135.30" r="0.68" fill="url(#dic)"/>
<circle cx="614.00" cy="135.30" r="1.35" fill="url(#dic)"/>
<circle cx="560.50" cy="138.30" r="0.68" fill="url(#dic)"/>
<circle cx="584.00" cy="139.80" r="1.26" fill="url(#dic)"/>
<circle cx="576.00" cy="144.80" r="1.26" fill="url(#dic)"/>
<circle cx="570.00" cy="145.80" r="0.81" fill="url(#dic)"/>
<circle cx="559.50" cy="144.80" r="0.68" fill="url(#dic)"/>
<circle cx="589.50" cy="144.30" r="0.68" fill="url(#dic)"/>
</g>
<text x="613" y="144" font-size="11" text-anchor="end" fill="#fff">40 min</text>
<clipPath id="mcc3"><rect x="622.00" y="85.10" width="63.00" height="63.50"/></clipPath>
<g clip-path="url(#mcc3)">
<rect x="622.00" y="85.10" width="63.00" height="63.50" fill="#7e7e7e"/>
<circle cx="625.30" cy="88.50" r="0.58" fill="url(#dic)"/>
<circle cx="631.80" cy="88.30" r="0.58" fill="url(#dic)"/>
<circle cx="645.30" cy="86.80" r="0.64" fill="url(#dic)"/>
<circle cx="650.80" cy="87.30" r="0.70" fill="url(#dic)"/>
<circle cx="659.80" cy="86.80" r="0.48" fill="url(#dic)"/>
<circle cx="666.80" cy="87.80" r="0.96" fill="url(#dic)"/>
<circle cx="680.80" cy="87.80" r="0.96" fill="url(#dic)"/>
<circle cx="674.30" cy="91.10" r="0.48" fill="url(#dic)"/>
<circle cx="659.80" cy="91.80" r="0.96" fill="url(#dic)"/>
<circle cx="642.80" cy="91.80" r="0.90" fill="url(#dic)"/>
<circle cx="636.30" cy="94.50" r="0.80" fill="url(#dic)"/>
<circle cx="643.30" cy="96.30" r="0.58" fill="url(#dic)"/>
<circle cx="648.80" cy="98.10" r="0.58" fill="url(#dic)"/>
<circle cx="630.30" cy="98.10" r="1.06" fill="url(#dic)"/>
<circle cx="670.80" cy="95.80" r="0.96" fill="url(#dic)"/>
<circle cx="639.30" cy="101.80" r="0.80" fill="url(#dic)"/>
<circle cx="649.30" cy="103.30" r="0.58" fill="url(#dic)"/>
<circle cx="675.30" cy="103.80" r="1.02" fill="url(#dic)"/>
<circle cx="623.80" cy="104.80" r="0.48" fill="url(#dic)"/>
<circle cx="628.30" cy="104.80" r="0.70" fill="url(#dic)"/>
<circle cx="636.30" cy="106.80" r="0.90" fill="url(#dic)"/>
<circle cx="660.80" cy="106.10" r="0.96" fill="url(#dic)"/>
<circle cx="666.80" cy="107.30" r="0.80" fill="url(#dic)"/>
<circle cx="626.80" cy="110.60" r="0.90" fill="url(#dic)"/>
<circle cx="638.80" cy="111.30" r="0.58" fill="url(#dic)"/>
<circle cx="653.30" cy="111.50" r="1.12" fill="url(#dic)"/>
<circle cx="664.30" cy="111.50" r="0.58" fill="url(#dic)"/>
<circle cx="640.80" cy="114.80" r="0.70" fill="url(#dic)"/>
<circle cx="676.30" cy="114.30" r="1.12" fill="url(#dic)"/>
<circle cx="627.30" cy="117.30" r="0.45" fill="url(#dic)"/>
<circle cx="634.80" cy="121.50" r="1.02" fill="url(#dic)"/>
<circle cx="640.30" cy="121.10" r="0.48" fill="url(#dic)"/>
<circle cx="655.30" cy="123.30" r="1.12" fill="url(#dic)"/>
<circle cx="665.30" cy="123.10" r="0.48" fill="url(#dic)"/>
<circle cx="671.60" cy="123.50" r="1.22" fill="url(#dic)"/>
<circle cx="623.30" cy="124.30" r="0.58" fill="url(#dic)"/>
<circle cx="629.80" cy="126.10" r="0.90" fill="url(#dic)"/>
<circle cx="635.80" cy="128.30" r="0.48" fill="url(#dic)"/>
<circle cx="643.80" cy="126.80" r="0.90" fill="url(#dic)"/>
<circle cx="661.30" cy="127.80" r="0.58" fill="url(#dic)"/>
<circle cx="681.30" cy="126.80" r="1.12" fill="url(#dic)"/>
<circle cx="658.30" cy="132.30" r="1.02" fill="url(#dic)"/>
<circle cx="666.30" cy="132.80" r="0.96" fill="url(#dic)"/>
<circle cx="624.30" cy="133.80" r="0.58" fill="url(#dic)"/>
<circle cx="628.80" cy="133.30" r="0.70" fill="url(#dic)"/>
<circle cx="633.80" cy="135.30" r="0.58" fill="url(#dic)"/>
<circle cx="639.80" cy="133.80" r="0.80" fill="url(#dic)"/>
<circle cx="649.80" cy="135.30" r="0.48" fill="url(#dic)"/>
<circle cx="680.80" cy="135.30" r="0.96" fill="url(#dic)"/>
<circle cx="627.30" cy="138.30" r="0.48" fill="url(#dic)"/>
<circle cx="650.80" cy="139.80" r="0.90" fill="url(#dic)"/>
<circle cx="642.80" cy="144.80" r="0.90" fill="url(#dic)"/>
<circle cx="636.80" cy="145.80" r="0.58" fill="url(#dic)"/>
<circle cx="626.30" cy="144.80" r="0.48" fill="url(#dic)"/>
<circle cx="656.30" cy="144.30" r="0.48" fill="url(#dic)"/>
</g>
<text x="679" y="144" font-size="11" text-anchor="end" fill="#fff">60 min</text>
<line x1="558.00" y1="75.30" x2="567.80" y2="75.30" stroke="#fff" stroke-width="2.2"/>
<text x="-0.6" y="224.7" font-size="16.8" font-weight="bold" fill="#000">d</text>
<clipPath id="dclip"><rect x="33.15" y="215" width="139.75" height="154"/></clipPath>
<g clip-path="url(#dclip)">
<polyline points="33.1,226.5 35.9,225.1 38.7,225.1 41.5,233.1 44.3,241.4 47.1,246.4 49.9,254.5 52.6,257.5 55.4,259.9 58.2,264.6 61.0,267.7 63.8,273.6 66.6,276.4 69.4,280.9 72.1,283.8 74.9,287.5 77.7,292.4 80.5,294.4 83.3,296.7 86.1,297.7 88.8,301.2 91.6,306.1 94.4,307.2 97.2,309.6 100.0,308.9 102.8,310.9 105.6,315.7 108.3,317.7 111.1,324.0 113.9,326.7 116.7,327.1 119.5,330.0 122.3,333.2 125.1,332.6 127.8,335.0 130.6,335.9 133.4,338.5 136.2,337.7 139.0,339.1 141.8,338.5 144.5,338.9 147.3,340.7 150.1,340.6 152.9,341.3 155.7,341.5 158.5,341.5 161.3,340.7 164.0,339.7 166.8,341.2 169.6,339.2 172.4,340.0" fill="none" stroke="#f7a8a8" stroke-width="0.55"/>
<polyline points="33.1,233.3 35.9,234.3 38.7,237.6 41.5,241.6 44.3,245.9 47.1,250.0 49.9,257.3 52.6,260.3 55.4,266.8 58.2,266.9 61.0,268.7 63.8,273.1 66.6,276.9 69.4,285.2 72.1,290.8 74.9,296.1 77.7,299.7 80.5,303.0 83.3,304.0 86.1,308.6 88.8,309.6 91.6,311.4 94.4,313.3 97.2,316.8 100.0,319.1 102.8,322.5 105.6,325.6 108.3,330.9 111.1,330.0 113.9,330.8 116.7,331.5 119.5,334.7 122.3,333.7 125.1,337.9 127.8,339.0 130.6,340.1 133.4,340.2 136.2,341.4 139.0,339.4 141.8,340.1 144.5,340.3 147.3,340.4 150.1,341.7 152.9,342.9 155.7,343.6 158.5,343.0 161.3,341.9 164.0,344.0 166.8,344.2 169.6,341.4 172.4,342.4" fill="none" stroke="#f7a8a8" stroke-width="0.55"/>
<polyline points="33.1,244.9 35.9,246.6 38.7,246.9 41.5,247.5 44.3,252.6 47.1,257.1 49.9,262.6 52.6,266.0 55.4,274.8 58.2,279.9 61.0,283.3 63.8,288.4 66.6,289.9 69.4,293.1 72.1,298.4 74.9,302.4 77.7,308.4 80.5,311.3 83.3,315.9 86.1,317.4 88.8,321.0 91.6,322.7 94.4,323.3 97.2,325.8 100.0,327.6 102.8,331.1 105.6,333.1 108.3,333.9 111.1,335.7 113.9,337.5 116.7,338.3 119.5,340.2 122.3,340.4 125.1,339.3 127.8,340.0 130.6,341.6 133.4,342.6 136.2,343.6 139.0,344.8 141.8,344.6 144.5,343.5 147.3,343.6 150.1,345.3 152.9,344.4 155.7,344.8 158.5,345.3 161.3,345.7 164.0,345.8 166.8,347.2 169.6,346.6 172.4,348.1" fill="none" stroke="#f7a8a8" stroke-width="0.55"/>
<polyline points="33.1,258.5 35.9,261.5 38.7,265.6 41.5,270.4 44.3,271.3 47.1,274.7 49.9,277.4 52.6,283.4 55.4,287.0 58.2,292.9 61.0,296.0 63.8,300.3 66.6,303.2 69.4,307.7 72.1,311.8 74.9,317.4 77.7,320.6 80.5,323.5 83.3,326.4 86.1,330.6 88.8,331.3 91.6,333.4 94.4,336.0 97.2,336.8 100.0,337.9 102.8,340.2 105.6,341.2 108.3,343.0 111.1,342.0 113.9,342.5 116.7,344.6 119.5,344.7 122.3,345.1 125.1,345.4 127.8,347.3 130.6,345.9 133.4,346.8 136.2,346.8 139.0,347.8 141.8,347.3 144.5,347.1 147.3,347.6 150.1,347.6 152.9,349.6 155.7,349.5 158.5,349.0 161.3,348.7 164.0,350.2 166.8,349.3 169.6,349.7 172.4,351.7" fill="none" stroke="#f7a8a8" stroke-width="0.55"/>
<polyline points="33.1,272.4 35.9,275.0 38.7,277.4 41.5,279.0 44.3,282.1 47.1,286.3 49.9,290.0 52.6,293.8 55.4,295.8 58.2,299.2 61.0,302.9 63.8,308.0 66.6,314.0 69.4,316.0 72.1,321.0 74.9,322.4 77.7,325.8 80.5,329.2 83.3,333.8 86.1,335.1 88.8,338.3 91.6,341.1 94.4,341.4 97.2,344.1 100.0,344.1 102.8,345.9 105.6,345.7 108.3,345.2 111.1,346.0 113.9,347.6 116.7,347.0 119.5,347.9 122.3,348.9 125.1,349.7 127.8,348.6 130.6,348.9 133.4,347.9 136.2,348.1 139.0,349.2 141.8,350.1 144.5,348.7 147.3,351.4 150.1,351.2 152.9,350.1 155.7,350.2 158.5,351.8 161.3,350.8 164.0,350.4 166.8,352.1 169.6,352.3 172.4,353.2" fill="none" stroke="#f7a8a8" stroke-width="0.55"/>
<polyline points="33.1,280.8 35.9,281.5 38.7,285.6 41.5,286.6 44.3,289.8 47.1,293.8 49.9,297.9 52.6,300.0 55.4,305.8 58.2,310.4 61.0,314.3 63.8,315.7 66.6,320.2 69.4,324.2 72.1,327.5 74.9,332.3 77.7,334.2 80.5,337.2 83.3,340.2 86.1,341.1 88.8,342.6 91.6,346.4 94.4,346.5 97.2,348.2 100.0,347.3 102.8,348.6 105.6,350.3 108.3,350.4 111.1,350.9 113.9,348.7 116.7,350.8 119.5,350.1 122.3,350.6 125.1,350.3 127.8,350.6 130.6,350.3 133.4,352.2 136.2,350.6 139.0,352.0 141.8,351.3 144.5,351.9 147.3,352.0 150.1,351.3 152.9,351.5 155.7,351.9 158.5,351.1 161.3,351.9 164.0,353.7 166.8,353.4 169.6,353.2 172.4,352.2" fill="none" stroke="#f7a8a8" stroke-width="0.55"/>
<polyline points="33.1,291.0 35.9,295.1 38.7,299.8 41.5,300.8 44.3,304.9 47.1,307.7 49.9,310.5 52.6,314.3 55.4,318.6 58.2,321.2 61.0,324.4 63.8,325.1 66.6,324.4 69.4,328.1 72.1,331.0 74.9,332.7 77.7,337.7 80.5,338.1 83.3,341.1 86.1,344.1 88.8,346.1 91.6,346.3 94.4,347.4 97.2,350.1 100.0,349.8 102.8,350.3 105.6,350.6 108.3,351.2 111.1,351.9 113.9,350.8 116.7,350.3 119.5,352.6 122.3,352.2 125.1,350.5 127.8,350.6 130.6,351.0 133.4,352.7 136.2,350.8 139.0,350.2 141.8,350.3 144.5,351.2 147.3,353.2 150.1,351.2 152.9,353.1 155.7,352.0 158.5,351.3 161.3,352.2 164.0,353.9 166.8,353.6 169.6,352.1 172.4,354.4" fill="none" stroke="#f7a8a8" stroke-width="0.55"/>
<polyline points="33.1,250.3 35.9,249.6 38.7,249.0 41.5,246.4 44.3,250.7 47.1,253.6 49.9,260.0 52.6,268.0 55.4,272.9 58.2,274.1 61.0,276.3 63.8,278.5 66.6,284.0 69.4,286.9 72.1,290.9 74.9,293.8 77.7,299.4 80.5,303.4 83.3,310.2 86.1,315.5 88.8,315.7 91.6,319.1 94.4,319.7 97.2,322.6 100.0,324.0 102.8,327.5 105.6,327.9 108.3,329.4 111.1,329.1 113.9,330.9 116.7,331.6 119.5,334.4 122.3,337.5 125.1,338.3 127.8,337.9 130.6,336.9 133.4,338.5 136.2,337.0 139.0,337.9 141.8,341.1 144.5,341.1 147.3,344.2 150.1,343.7 152.9,341.4 155.7,341.3 158.5,338.5 161.3,340.0 164.0,340.8 166.8,339.9 169.6,342.4 172.4,340.9" fill="none" stroke="#f7a8a8" stroke-width="0.55"/>
<polyline points="29.7,247.1 31.4,247.1 33.1,246.5 34.9,246.8 36.6,246.1 38.4,246.1 40.1,246.3 41.9,245.8 43.6,246.3 45.3,246.0 47.1,246.4 48.8,246.4 50.6,246.1 52.3,245.6 54.0,246.2 55.8,245.8 57.5,245.2 59.3,244.6 61.0,244.7 62.7,244.7 64.5,244.0 66.2,244.8 68.0,244.0 69.7,244.7 71.4,244.9 73.2,245.1 74.9,244.9 76.7,244.4 78.4,245.0 80.1,244.4 81.9,244.2 83.6,244.2 85.4,243.8 87.1,244.1 88.8,244.0 90.6,243.8 92.3,243.3 94.1,243.6 95.8,243.9 97.6,243.7 99.3,243.9 101.0,244.1 102.8,243.6 104.5,243.5 106.3,243.8 108.0,243.3 109.7,243.1 111.5,242.6 113.2,242.5 115.0,242.9 116.7,242.2 118.4,243.1 120.2,242.9 121.9,242.7 123.7,243.4 125.4,243.1 127.1,243.5 128.9,243.1 130.6,243.2 132.4,243.4 134.1,243.2 135.8,243.8 137.6,243.5 139.3,243.6 141.1,243.6 142.8,243.8 144.5,243.6 146.3,243.7 148.0,244.3 149.8,244.3 151.5,244.9 153.3,244.3 155.0,244.3 156.7,243.9 158.5,243.9 160.2,244.3 162.0,244.0 163.7,243.7 165.4,244.3 167.2,243.9 168.9,244.3 170.7,244.5 172.4,244.8 174.1,244.2 175.9,245.0" fill="none" stroke="#5c5c5c" stroke-width="7" stroke-linejoin="round"/>
<polyline points="29.7,253.7 31.4,255.3 33.1,256.9 34.9,258.3 36.6,259.7 38.4,261.2 40.1,262.6 41.9,264.0 43.6,265.4 45.3,266.8 47.1,268.3 48.8,269.7 50.6,271.6 52.3,273.6 54.0,275.6 55.8,277.6 57.5,279.6 59.3,281.6 61.0,283.6 62.7,286.0 64.5,288.4 66.2,290.9 68.0,293.3 69.7,295.7 71.4,298.1 73.2,300.5 74.9,302.8 76.7,305.2 78.4,307.5 80.1,309.8 81.9,312.1 83.6,314.5 85.4,316.4 87.1,318.0 88.8,319.5 90.6,321.1 92.3,322.7 94.1,324.3 95.8,325.8 97.6,327.0 99.3,328.1 101.0,329.1 102.8,330.2 104.5,331.2 106.3,332.3 108.0,333.3 109.7,334.0 111.5,334.6 113.2,335.3 115.0,335.9 116.7,336.6 118.4,337.2 120.2,337.8 121.9,338.3 123.7,338.7 125.4,339.1 127.1,339.5 128.9,339.9 130.6,340.3 132.4,340.6 134.1,340.9 135.8,341.2 137.6,341.5 139.3,341.8 141.1,342.1 142.8,342.4 144.5,342.6 146.3,342.8 148.0,343.0 149.8,343.3 151.5,343.5 153.3,343.7 155.0,343.9 156.7,344.0 158.5,344.2 160.2,344.3 162.0,344.4 163.7,344.6 165.4,344.7 167.2,344.9 168.9,345.0 170.7,345.1 172.4,345.3 174.1,345.3 175.9,345.3" fill="none" stroke="#f00" stroke-width="7.2" stroke-linejoin="round"/>
</g>
<line x1="33.15" y1="221.00" x2="33.15" y2="370.00" stroke="#000" stroke-width="1.5"/>
<line x1="32.40" y1="369.30" x2="172.90" y2="369.30" stroke="#000" stroke-width="1.5"/>
<line x1="33.15" y1="349.43" x2="36.15" y2="349.43" stroke="#000" stroke-width="1"/>
<text x="28.8" y="353.33" font-size="11" text-anchor="end" fill="#000">1</text>
<line x1="33.15" y1="329.66" x2="36.15" y2="329.66" stroke="#000" stroke-width="1"/>
<text x="28.8" y="333.56" font-size="11" text-anchor="end" fill="#000">2</text>
<line x1="33.15" y1="309.89" x2="36.15" y2="309.89" stroke="#000" stroke-width="1"/>
<text x="28.8" y="313.79" font-size="11" text-anchor="end" fill="#000">3</text>
<line x1="33.15" y1="290.12" x2="36.15" y2="290.12" stroke="#000" stroke-width="1"/>
<text x="28.8" y="294.02" font-size="11" text-anchor="end" fill="#000">4</text>
<line x1="33.15" y1="270.35" x2="36.15" y2="270.35" stroke="#000" stroke-width="1"/>
<text x="28.8" y="274.25" font-size="11" text-anchor="end" fill="#000">5</text>
<line x1="33.15" y1="250.58" x2="36.15" y2="250.58" stroke="#000" stroke-width="1"/>
<text x="28.8" y="254.48" font-size="11" text-anchor="end" fill="#000">6</text>
<line x1="33.15" y1="230.81" x2="36.15" y2="230.81" stroke="#000" stroke-width="1"/>
<text x="28.8" y="234.71" font-size="11" text-anchor="end" fill="#000">7</text>
<line x1="33.15" y1="369.30" x2="33.15" y2="366.30" stroke="#000" stroke-width="1"/>
<text x="33.15" y="383.7" font-size="11" text-anchor="middle" fill="#000">0</text>
<line x1="67.96" y1="369.30" x2="67.96" y2="366.30" stroke="#000" stroke-width="1"/>
<text x="67.96" y="383.7" font-size="11" text-anchor="middle" fill="#000">20</text>
<line x1="102.77" y1="369.30" x2="102.77" y2="366.30" stroke="#000" stroke-width="1"/>
<text x="102.77" y="383.7" font-size="11" text-anchor="middle" fill="#000">40</text>
<line x1="137.59" y1="369.30" x2="137.59" y2="366.30" stroke="#000" stroke-width="1"/>
<text x="137.59" y="383.7" font-size="11" text-anchor="middle" fill="#000">60</text>
<line x1="172.40" y1="369.30" x2="172.40" y2="366.30" stroke="#000" stroke-width="1"/>
<text x="172.4" y="383.7" font-size="11" text-anchor="middle" fill="#000">80</text>
<text x="104.3" y="397.7" font-size="11" text-anchor="middle" fill="#000">Time (min)</text>
<text x="12.5" y="295.5" font-size="11" text-anchor="middle" fill="#000" transform="rotate(-90 12.5 295.5)">Droplet diameter (µm)</text>
<rect x="63.10" y="222.50" width="34.30" height="11.80" fill="#fff" stroke="#000" stroke-width="1.05"/>
<text x="80.25" y="232.5" font-size="11" text-anchor="middle" fill="#000">RGG</text>
<line x1="97.40" y1="228.40" x2="101.40" y2="228.40" stroke="#000" stroke-width="1.6"/>
<rect x="101.40" y="222.50" width="33.60" height="11.80" fill="#fff" stroke="#000" stroke-width="1.05"/>
<text x="118.2" y="232.5" font-size="11" text-anchor="middle" fill="#000">RGG</text>
<text x="139.4" y="231" font-size="11" fill="#000">Control</text>
<rect x="109.00" y="290.70" width="33.70" height="11.70" fill="#fff" stroke="#000" stroke-width="1.05"/>
<text x="125.85" y="300.6" font-size="11" text-anchor="middle" fill="#000">RGG</text>
<line x1="142.70" y1="296.55" x2="147.00" y2="296.55" stroke="#000" stroke-width="1.6"/>
<rect x="147.00" y="290.70" width="33.70" height="11.70" fill="#fff" stroke="#000" stroke-width="1.05"/>
<text x="163.85" y="300.6" font-size="11" text-anchor="middle" fill="#000">RGG</text>
<polygon points="141.90,282.40 148.70,282.40 145.30,289.00" fill="#e8202a"/>
<text x="145.4" y="314.8" font-size="11" text-anchor="middle" fill="#000">TEV cut site</text>
<text x="202.2" y="224.8" font-size="16.8" font-weight="bold" fill="#000">e</text>
<rect x="285.90" y="229.60" width="33.40" height="12.10" fill="#fff" stroke="#000" stroke-width="1.05"/>
<text x="302.6" y="239.9" font-size="11" text-anchor="middle" fill="#000">RGG</text>
<line x1="319.30" y1="235.65" x2="323.60" y2="235.65" stroke="#000" stroke-width="1.6"/>
<rect x="323.60" y="229.60" width="33.40" height="12.10" fill="#fff" stroke="#000" stroke-width="1.05"/>
<text x="340.3" y="239.9" font-size="11" text-anchor="middle" fill="#000">RGG</text>
<line x1="357.00" y1="235.65" x2="361.50" y2="235.65" stroke="#000" stroke-width="1.6"/>
<rect x="361.50" y="229.60" width="33.50" height="12.10" fill="#fff" stroke="#000" stroke-width="1.05"/>
<text x="378.25" y="239.9" font-size="11" text-anchor="middle" fill="#000">RGG</text>
<polygon points="318.10,221.00 324.90,221.00 321.50,227.60" fill="#e8202a"/>
<polygon points="356.10,221.00 362.90,221.00 359.50,227.60" fill="#8b3fb0"/>
<line x1="240.30" y1="236.10" x2="240.30" y2="369.60" stroke="#000" stroke-width="1.5"/>
<line x1="239.55" y1="368.90" x2="428.93" y2="368.90" stroke="#000" stroke-width="1.5"/>
<line x1="240.30" y1="245.30" x2="243.30" y2="245.30" stroke="#000" stroke-width="1"/>
<text x="235.9" y="249.0" font-size="11" text-anchor="end" fill="#000">1.5</text>
<line x1="240.30" y1="283.90" x2="243.30" y2="283.90" stroke="#000" stroke-width="1"/>
<text x="235.9" y="287.6" font-size="11" text-anchor="end" fill="#000">1</text>
<line x1="240.30" y1="322.50" x2="243.30" y2="322.50" stroke="#000" stroke-width="1"/>
<text x="235.9" y="326.2" font-size="11" text-anchor="end" fill="#000">0.5</text>
<line x1="240.30" y1="361.10" x2="243.30" y2="361.10" stroke="#000" stroke-width="1"/>
<text x="235.9" y="364.8" font-size="11" text-anchor="end" fill="#000">0</text>
<line x1="259.05" y1="368.90" x2="259.05" y2="365.90" stroke="#000" stroke-width="1"/>
<text x="259.05" y="383.2" font-size="11" text-anchor="middle" fill="#000">10</text>
<line x1="296.55" y1="368.90" x2="296.55" y2="365.90" stroke="#000" stroke-width="1"/>
<text x="296.55" y="383.2" font-size="11" text-anchor="middle" fill="#000">20</text>
<line x1="334.05" y1="368.90" x2="334.05" y2="365.90" stroke="#000" stroke-width="1"/>
<text x="334.05" y="383.2" font-size="11" text-anchor="middle" fill="#000">30</text>
<line x1="371.55" y1="368.90" x2="371.55" y2="365.90" stroke="#000" stroke-width="1"/>
<text x="371.55" y="383.2" font-size="11" text-anchor="middle" fill="#000">40</text>
<line x1="409.05" y1="368.90" x2="409.05" y2="365.90" stroke="#000" stroke-width="1"/>
<text x="409.05" y="383.2" font-size="11" text-anchor="middle" fill="#000">50</text>
<text x="334.5" y="397.8" font-size="11" text-anchor="middle" fill="#000">Temperature (°C)</text>
<text x="212" y="303" font-size="11" text-anchor="middle" fill="#000" transform="rotate(-90 212 303)">Absorbance (600 nm)</text>
<g fill="none" stroke="#000" stroke-width="1.35"><path d="M240.30 242.92L242.40 246.07L240.30 249.22L238.20 246.07Z"/><path d="M242.18 243.13L244.28 246.28L242.18 249.43L240.08 246.28Z"/><path d="M244.05 243.33L246.15 246.48L244.05 249.63L241.95 246.48Z"/><path d="M245.93 243.54L248.03 246.69L245.93 249.84L243.83 246.69Z"/><path d="M247.80 243.74L249.90 246.89L247.80 250.04L245.70 246.89Z"/><path d="M249.68 243.95L251.78 247.10L249.68 250.25L247.58 247.10Z"/><path d="M251.55 244.16L253.65 247.31L251.55 250.46L249.45 247.31Z"/><path d="M253.43 244.36L255.53 247.51L253.43 250.66L251.33 247.51Z"/><path d="M255.30 244.57L257.40 247.72L255.30 250.87L253.20 247.72Z"/><path d="M257.18 244.77L259.28 247.92L257.18 251.07L255.08 247.92Z"/><path d="M259.05 244.98L261.15 248.13L259.05 251.28L256.95 248.13Z"/><path d="M260.93 245.18L263.03 248.33L260.93 251.48L258.82 248.33Z"/><path d="M262.80 245.39L264.90 248.54L262.80 251.69L260.70 248.54Z"/><path d="M264.68 245.59L266.78 248.74L264.68 251.89L262.57 248.74Z"/><path d="M266.55 245.80L268.65 248.95L266.55 252.10L264.45 248.95Z"/><path d="M268.43 246.01L270.53 249.16L268.43 252.31L266.32 249.16Z"/><path d="M270.30 246.21L272.40 249.36L270.30 252.51L268.20 249.36Z"/><path d="M272.18 246.42L274.28 249.57L272.18 252.72L270.07 249.57Z"/><path d="M274.05 246.62L276.15 249.77L274.05 252.92L271.95 249.77Z"/><path d="M275.93 246.83L278.03 249.98L275.93 253.13L273.82 249.98Z"/><path d="M277.80 247.03L279.90 250.18L277.80 253.33L275.70 250.18Z"/><path d="M279.68 247.24L281.78 250.39L279.68 253.54L277.57 250.39Z"/><path d="M281.55 247.44L283.65 250.59L281.55 253.74L279.45 250.59Z"/><path d="M283.43 247.65L285.53 250.80L283.43 253.95L281.32 250.80Z"/><path d="M285.30 247.86L287.40 251.01L285.30 254.16L283.20 251.01Z"/><path d="M287.18 248.06L289.28 251.21L287.18 254.36L285.07 251.21Z"/><path d="M289.05 248.27L291.15 251.42L289.05 254.57L286.95 251.42Z"/><path d="M290.93 248.47L293.03 251.62L290.93 254.77L288.82 251.62Z"/><path d="M292.80 248.68L294.90 251.83L292.80 254.98L290.70 251.83Z"/><path d="M294.68 248.88L296.78 252.03L294.68 255.18L292.57 252.03Z"/><path d="M296.55 249.09L298.65 252.24L296.55 255.39L294.45 252.24Z"/><path d="M298.43 249.29L300.53 252.44L298.43 255.59L296.32 252.44Z"/><path d="M300.30 249.50L302.40 252.65L300.30 255.80L298.20 252.65Z"/><path d="M302.18 249.71L304.28 252.86L302.18 256.01L300.07 252.86Z"/><path d="M304.05 249.92L306.15 253.07L304.05 256.22L301.95 253.07Z"/><path d="M305.93 250.17L308.03 253.32L305.93 256.47L303.82 253.32Z"/><path d="M307.80 250.41L309.90 253.56L307.80 256.71L305.70 253.56Z"/><path d="M309.68 250.66L311.78 253.81L309.68 256.96L307.57 253.81Z"/><path d="M311.55 250.90L313.65 254.05L311.55 257.20L309.45 254.05Z"/><path d="M313.43 251.15L315.53 254.30L313.43 257.45L311.32 254.30Z"/><path d="M315.30 251.40L317.40 254.55L315.30 257.70L313.20 254.55Z"/><path d="M317.18 251.64L319.28 254.79L317.18 257.94L315.07 254.79Z"/><path d="M319.05 251.89L321.15 255.04L319.05 258.19L316.95 255.04Z"/><path d="M320.93 252.13L323.03 255.28L320.93 258.43L318.82 255.28Z"/><path d="M322.80 252.38L324.90 255.53L322.80 258.68L320.70 255.53Z"/><path d="M324.68 252.62L326.78 255.77L324.68 258.92L322.57 255.77Z"/><path d="M326.55 252.87L328.65 256.02L326.55 259.17L324.45 256.02Z"/><path d="M328.43 253.12L330.53 256.27L328.43 259.42L326.32 256.27Z"/><path d="M330.30 253.36L332.40 256.51L330.30 259.66L328.20 256.51Z"/><path d="M332.18 253.61L334.28 256.76L332.18 259.91L330.07 256.76Z"/><path d="M334.05 253.85L336.15 257.00L334.05 260.15L331.95 257.00Z"/><path d="M335.93 254.10L338.03 257.25L335.93 260.40L333.82 257.25Z"/><path d="M337.80 254.35L339.90 257.50L337.80 260.65L335.70 257.50Z"/><path d="M339.68 254.59L341.78 257.74L339.68 260.89L337.57 257.74Z"/><path d="M341.55 254.84L343.65 257.99L341.55 261.14L339.45 257.99Z"/><path d="M343.43 255.17L345.53 258.32L343.43 261.47L341.32 258.32Z"/><path d="M345.30 255.52L347.40 258.67L345.30 261.82L343.20 258.67Z"/><path d="M347.18 255.87L349.28 259.02L347.18 262.17L345.07 259.02Z"/><path d="M349.05 256.22L351.15 259.37L349.05 262.52L346.95 259.37Z"/><path d="M350.93 256.57L353.03 259.72L350.93 262.87L348.82 259.72Z"/><path d="M352.80 256.92L354.90 260.07L352.80 263.22L350.70 260.07Z"/><path d="M354.68 257.27L356.78 260.42L354.68 263.57L352.57 260.42Z"/><path d="M356.55 257.63L358.65 260.78L356.55 263.93L354.45 260.78Z"/><path d="M358.43 257.98L360.53 261.13L358.43 264.28L356.32 261.13Z"/><path d="M360.30 258.76L362.40 261.91L360.30 265.06L358.20 261.91Z"/><path d="M362.18 259.54L364.28 262.69L362.18 265.84L360.07 262.69Z"/><path d="M364.05 260.32L366.15 263.47L364.05 266.62L361.95 263.47Z"/><path d="M365.93 261.11L368.03 264.26L365.93 267.41L363.82 264.26Z"/><path d="M367.80 261.89L369.90 265.04L367.80 268.19L365.70 265.04Z"/><path d="M369.68 262.67L371.78 265.82L369.68 268.97L367.57 265.82Z"/><path d="M371.55 263.45L373.65 266.60L371.55 269.75L369.45 266.60Z"/><path d="M373.43 264.32L375.53 267.47L373.43 270.62L371.32 267.47Z"/><path d="M375.30 265.24L377.40 268.39L375.30 271.54L373.20 268.39Z"/><path d="M377.18 266.17L379.28 269.32L377.18 272.47L375.07 269.32Z"/><path d="M379.05 267.09L381.15 270.24L379.05 273.39L376.95 270.24Z"/><path d="M380.93 268.01L383.03 271.16L380.93 274.31L378.82 271.16Z"/><path d="M382.80 269.49L384.90 272.64L382.80 275.79L380.70 272.64Z"/><path d="M384.68 270.96L386.78 274.11L384.68 277.26L382.57 274.11Z"/><path d="M386.55 272.44L388.65 275.59L386.55 278.74L384.45 275.59Z"/><path d="M388.43 274.10L390.53 277.25L388.43 280.40L386.32 277.25Z"/><path d="M390.30 275.89L392.40 279.04L390.30 282.19L388.20 279.04Z"/><path d="M392.18 277.68L394.28 280.83L392.18 283.98L390.07 280.83Z"/><path d="M394.05 279.47L396.15 282.62L394.05 285.77L391.95 282.62Z"/><path d="M395.93 282.60L398.03 285.75L395.93 288.90L393.82 285.75Z"/><path d="M397.80 286.32L399.90 289.47L397.80 292.62L395.70 289.47Z"/><path d="M399.68 290.35L401.78 293.50L399.68 296.65L397.57 293.50Z"/><path d="M401.55 296.04L403.65 299.19L401.55 302.34L399.45 299.19Z"/><path d="M403.43 301.21L405.53 304.36L403.43 307.51L401.32 304.36Z"/><path d="M405.30 307.69L407.40 310.84L405.30 313.99L403.20 310.84Z"/><path d="M407.18 315.10L409.28 318.25L407.18 321.40L405.07 318.25Z"/><path d="M409.05 324.14L411.15 327.29L409.05 330.44L406.95 327.29Z"/><path d="M410.93 333.68L413.03 336.83L410.93 339.98L408.82 336.83Z"/><path d="M412.80 343.54L414.90 346.69L412.80 349.84L410.70 346.69Z"/><path d="M414.68 351.39L416.78 354.54L414.68 357.69L412.57 354.54Z"/><path d="M416.55 355.63L418.65 358.78L416.55 361.93L414.45 358.78Z"/><path d="M418.43 357.56L420.53 360.71L418.43 363.86L416.32 360.71Z"/><path d="M420.30 357.64L422.40 360.79L420.30 363.94L418.20 360.79Z"/><path d="M422.18 357.71L424.28 360.86L422.18 364.01L420.07 360.86Z"/><path d="M424.05 357.79L426.15 360.94L424.05 364.09L421.95 360.94Z"/><path d="M425.93 357.86L428.03 361.01L425.93 364.16L423.82 361.01Z"/><path d="M427.80 357.94L429.90 361.09L427.80 364.24L425.70 361.09Z"/></g>
<clipPath id="eclip"><rect x="239.70" y="230" width="200" height="145"/></clipPath><g clip-path="url(#eclip)">
<g fill="none" stroke="#f00" stroke-width="1.25"><rect x="237.85" y="243.62" width="4.9" height="4.9"/><rect x="239.80" y="243.93" width="4.9" height="4.9"/><rect x="241.75" y="244.24" width="4.9" height="4.9"/><rect x="243.70" y="244.55" width="4.9" height="4.9"/><rect x="245.65" y="244.85" width="4.9" height="4.9"/><rect x="247.60" y="245.16" width="4.9" height="4.9"/><rect x="249.55" y="245.47" width="4.9" height="4.9"/><rect x="251.50" y="245.78" width="4.9" height="4.9"/><rect x="253.45" y="246.09" width="4.9" height="4.9"/><rect x="255.40" y="246.66" width="4.9" height="4.9"/><rect x="257.35" y="247.34" width="4.9" height="4.9"/><rect x="259.30" y="248.01" width="4.9" height="4.9"/><rect x="261.25" y="248.68" width="4.9" height="4.9"/><rect x="263.20" y="249.36" width="4.9" height="4.9"/><rect x="265.15" y="250.13" width="4.9" height="4.9"/><rect x="267.10" y="251.10" width="4.9" height="4.9"/><rect x="269.05" y="252.07" width="4.9" height="4.9"/><rect x="271.00" y="253.04" width="4.9" height="4.9"/><rect x="272.95" y="254.01" width="4.9" height="4.9"/><rect x="274.90" y="254.98" width="4.9" height="4.9"/><rect x="276.85" y="255.96" width="4.9" height="4.9"/><rect x="278.80" y="256.95" width="4.9" height="4.9"/><rect x="280.75" y="257.93" width="4.9" height="4.9"/><rect x="282.70" y="258.92" width="4.9" height="4.9"/><rect x="284.65" y="259.90" width="4.9" height="4.9"/><rect x="286.60" y="261.00" width="4.9" height="4.9"/><rect x="288.55" y="262.37" width="4.9" height="4.9"/><rect x="290.50" y="263.73" width="4.9" height="4.9"/><rect x="292.45" y="265.10" width="4.9" height="4.9"/><rect x="294.40" y="266.47" width="4.9" height="4.9"/><rect x="296.35" y="267.83" width="4.9" height="4.9"/><rect x="298.30" y="270.28" width="4.9" height="4.9"/><rect x="300.25" y="272.99" width="4.9" height="4.9"/><rect x="302.20" y="275.70" width="4.9" height="4.9"/><rect x="304.15" y="278.41" width="4.9" height="4.9"/><rect x="306.10" y="281.12" width="4.9" height="4.9"/><rect x="308.05" y="284.03" width="4.9" height="4.9"/><rect x="310.00" y="287.39" width="4.9" height="4.9"/><rect x="311.95" y="290.76" width="4.9" height="4.9"/><rect x="313.90" y="294.12" width="4.9" height="4.9"/><rect x="315.85" y="297.49" width="4.9" height="4.9"/><rect x="317.80" y="300.85" width="4.9" height="4.9"/><rect x="319.75" y="305.00" width="4.9" height="4.9"/><rect x="321.70" y="309.30" width="4.9" height="4.9"/><rect x="323.65" y="313.60" width="4.9" height="4.9"/><rect x="325.60" y="319.12" width="4.9" height="4.9"/><rect x="327.55" y="325.55" width="4.9" height="4.9"/><rect x="329.50" y="333.48" width="4.9" height="4.9"/><rect x="331.45" y="342.51" width="4.9" height="4.9"/><rect x="333.40" y="349.88" width="4.9" height="4.9"/><rect x="335.35" y="356.10" width="4.9" height="4.9"/><rect x="337.30" y="358.76" width="4.9" height="4.9"/><rect x="339.25" y="360.19" width="4.9" height="4.9"/><rect x="341.20" y="360.19" width="4.9" height="4.9"/><rect x="343.15" y="360.19" width="4.9" height="4.9"/><rect x="345.10" y="360.19" width="4.9" height="4.9"/><rect x="347.05" y="360.19" width="4.9" height="4.9"/><rect x="349.00" y="360.19" width="4.9" height="4.9"/><rect x="350.95" y="360.19" width="4.9" height="4.9"/><rect x="352.90" y="360.19" width="4.9" height="4.9"/><rect x="354.85" y="360.19" width="4.9" height="4.9"/><rect x="356.80" y="360.19" width="4.9" height="4.9"/></g>
</g>
<g fill="none" stroke="#8a2be2" stroke-width="1.25"><circle cx="246.30" cy="239.82" r="2.2"/><circle cx="248.27" cy="243.06" r="2.2"/><circle cx="250.24" cy="246.46" r="2.2"/><circle cx="252.21" cy="250.55" r="2.2"/><circle cx="254.18" cy="255.10" r="2.2"/><circle cx="256.14" cy="260.82" r="2.2"/><circle cx="258.11" cy="267.77" r="2.2"/><circle cx="260.08" cy="275.49" r="2.2"/><circle cx="262.05" cy="284.90" r="2.2"/><circle cx="264.02" cy="295.87" r="2.2"/><circle cx="265.99" cy="310.23" r="2.2"/><circle cx="267.96" cy="325.74" r="2.2"/><circle cx="269.93" cy="342.03" r="2.2"/><circle cx="271.89" cy="354.69" r="2.2"/><circle cx="273.86" cy="359.17" r="2.2"/><circle cx="275.83" cy="360.33" r="2.2"/><circle cx="277.80" cy="360.33" r="2.2"/><circle cx="279.77" cy="360.33" r="2.2"/><circle cx="281.74" cy="360.33" r="2.2"/><circle cx="283.71" cy="360.33" r="2.2"/><circle cx="285.68" cy="360.33" r="2.2"/><circle cx="287.64" cy="360.33" r="2.2"/><circle cx="289.61" cy="360.33" r="2.2"/><circle cx="291.58" cy="360.33" r="2.2"/><circle cx="293.55" cy="360.33" r="2.2"/><circle cx="295.52" cy="360.33" r="2.2"/><circle cx="297.49" cy="360.33" r="2.2"/><circle cx="299.46" cy="360.33" r="2.2"/><circle cx="301.43" cy="360.33" r="2.2"/><circle cx="303.39" cy="360.33" r="2.2"/><circle cx="305.36" cy="360.33" r="2.2"/><circle cx="307.33" cy="360.33" r="2.2"/><circle cx="309.30" cy="360.33" r="2.2"/><circle cx="311.27" cy="360.33" r="2.2"/><circle cx="313.24" cy="360.33" r="2.2"/><circle cx="315.21" cy="360.33" r="2.2"/><circle cx="317.18" cy="360.33" r="2.2"/><circle cx="319.14" cy="360.33" r="2.2"/><circle cx="321.11" cy="360.33" r="2.2"/><circle cx="323.08" cy="360.33" r="2.2"/><circle cx="325.05" cy="360.33" r="2.2"/><circle cx="327.02" cy="360.33" r="2.2"/><circle cx="328.99" cy="360.33" r="2.2"/><circle cx="330.96" cy="360.33" r="2.2"/><circle cx="332.93" cy="360.33" r="2.2"/><circle cx="334.89" cy="360.33" r="2.2"/><circle cx="336.86" cy="360.33" r="2.2"/><circle cx="338.83" cy="360.33" r="2.2"/><circle cx="340.80" cy="360.33" r="2.2"/><circle cx="342.77" cy="360.33" r="2.2"/><circle cx="344.74" cy="360.33" r="2.2"/><circle cx="346.71" cy="360.33" r="2.2"/><circle cx="348.68" cy="360.33" r="2.2"/><circle cx="350.64" cy="360.33" r="2.2"/><circle cx="352.61" cy="360.33" r="2.2"/><circle cx="354.58" cy="360.33" r="2.2"/><circle cx="356.55" cy="360.33" r="2.2"/><circle cx="358.52" cy="360.33" r="2.2"/><circle cx="360.49" cy="360.33" r="2.2"/></g>
<text x="387.3" y="265.3" font-size="11" fill="#000">– TEV</text>
<text x="330.4" y="298.7" font-size="11" fill="#000">+TEV</text>
<text x="272.7" y="327.9" font-size="11" fill="#000">+TEV</text>
<text x="272.7" y="342" font-size="11" fill="#000">+ HRV3C</text>
<text x="456.5" y="224.9" font-size="16.8" font-weight="bold" fill="#000">f</text>
<rect x="475.40" y="227.20" width="32.60" height="12.10" fill="#fff" stroke="#000" stroke-width="1.05"/>
<text x="491.7" y="237.5" font-size="11" text-anchor="middle" fill="#000">RGG</text>
<line x1="508.00" y1="233.25" x2="512.60" y2="233.25" stroke="#000" stroke-width="1.6"/>
<rect x="512.60" y="227.20" width="33.60" height="12.10" fill="#fff" stroke="#000" stroke-width="1.05"/>
<text x="529.4" y="237.5" font-size="11" text-anchor="middle" fill="#000">RGG</text>
<line x1="546.20" y1="233.25" x2="550.90" y2="233.25" stroke="#000" stroke-width="1.6"/>
<rect x="550.90" y="227.20" width="33.20" height="12.10" fill="#fff" stroke="#000" stroke-width="1.05"/>
<text x="567.5" y="237.5" font-size="11" text-anchor="middle" fill="#000">RGG</text>
<polygon points="507.20,218.00 513.80,218.00 510.50,225.30" fill="#e8202a"/>
<polygon points="545.30,218.00 551.90,218.00 548.60,225.30" fill="#8b3fb0"/>
<text x="480.4" y="275.8" font-size="11" text-anchor="middle" fill="#000">TEV</text>
<text x="518.7" y="275.8" font-size="11" text-anchor="middle" fill="#000">HRV3C</text>
<line x1="482.90" y1="280.50" x2="482.90" y2="302.00" stroke="#000" stroke-width="2"/>
<line x1="510.10" y1="280.50" x2="510.10" y2="302.00" stroke="#000" stroke-width="2"/>
<path d="M474 302H519.5C518.5 322 512 341 496.7 346.8C481.5 341 475 322 474 302Z" fill="none" stroke="#000" stroke-width="2" stroke-linejoin="miter"/>
<text x="496.7" y="324.1" font-size="11" text-anchor="middle" fill="#000">AND</text>
<line x1="496.70" y1="346.80" x2="496.70" y2="363.80" stroke="#000" stroke-width="2"/>
<text x="497.4" y="377.4" font-size="11" text-anchor="middle" fill="#000">Phase</text>
<text x="497.4" y="390.2" font-size="11" text-anchor="middle" fill="#000">change</text>
<clipPath id="mcf0"><rect x="622.00" y="217.80" width="54.00" height="53.70"/></clipPath>
<g clip-path="url(#mcf0)">
<rect x="622.00" y="217.80" width="54.00" height="53.70" fill="#6e6e6e"/>
<circle cx="628.07" cy="238.90" r="1.52" fill="url(#dicf)"/>
<circle cx="629.49" cy="223.84" r="3.28" fill="url(#dicf)"/>
<circle cx="662.91" cy="225.72" r="2.04" fill="url(#dicf)"/>
<circle cx="657.76" cy="225.13" r="3.44" fill="url(#dicf)"/>
<circle cx="646.18" cy="239.96" r="2.86" fill="url(#dicf)"/>
<circle cx="643.76" cy="228.46" r="4.02" fill="url(#dicf)"/>
<circle cx="641.70" cy="269.09" r="2.30" fill="url(#dicf)"/>
<circle cx="633.71" cy="249.21" r="1.99" fill="url(#dicf)"/>
<circle cx="673.50" cy="262.84" r="2.89" fill="url(#dicf)"/>
<circle cx="633.01" cy="262.72" r="2.37" fill="url(#dicf)"/>
<circle cx="623.64" cy="257.27" r="4.17" fill="url(#dicf)"/>
<circle cx="640.05" cy="239.07" r="2.31" fill="url(#dicf)"/>
<circle cx="667.15" cy="269.42" r="3.17" fill="url(#dicf)"/>
<circle cx="671.73" cy="250.09" r="1.94" fill="url(#dicf)"/>
<circle cx="657.06" cy="271.05" r="3.93" fill="url(#dicf)"/>
<circle cx="646.56" cy="260.79" r="1.95" fill="url(#dicf)"/>
<circle cx="664.60" cy="247.96" r="2.61" fill="url(#dicf)"/>
<circle cx="627.34" cy="270.59" r="1.76" fill="url(#dicf)"/>
<circle cx="632.48" cy="235.80" r="1.76" fill="url(#dicf)"/>
<circle cx="668.12" cy="243.34" r="3.36" fill="url(#dicf)"/>
<circle cx="664.58" cy="232.73" r="2.75" fill="url(#dicf)"/>
<circle cx="655.09" cy="251.97" r="2.41" fill="url(#dicf)"/>
<circle cx="640.83" cy="218.40" r="4.16" fill="url(#dicf)"/>
<circle cx="637.26" cy="227.26" r="2.42" fill="url(#dicf)"/>
<circle cx="628.74" cy="264.26" r="1.59" fill="url(#dicf)"/>
<circle cx="646.56" cy="255.12" r="1.92" fill="url(#dicf)"/>
<circle cx="660.72" cy="242.58" r="2.83" fill="url(#dicf)"/>
<circle cx="664.29" cy="257.80" r="1.77" fill="url(#dicf)"/>
<circle cx="668.07" cy="224.18" r="1.87" fill="url(#dicf)"/>
<circle cx="670.35" cy="231.70" r="3.08" fill="url(#dicf)"/>
<circle cx="665.95" cy="237.34" r="1.97" fill="url(#dicf)"/>
<circle cx="641.89" cy="259.21" r="3.32" fill="url(#dicf)"/>
<circle cx="648.99" cy="268.03" r="2.70" fill="url(#dicf)"/>
<circle cx="638.05" cy="243.24" r="2.71" fill="url(#dicf)"/>
<circle cx="622.01" cy="238.19" r="1.51" fill="url(#dicf)"/>
<circle cx="654.68" cy="263.26" r="2.04" fill="url(#dicf)"/>
<circle cx="658.57" cy="247.56" r="2.45" fill="url(#dicf)"/>
<circle cx="660.11" cy="220.38" r="2.07" fill="url(#dicf)"/>
<circle cx="624.57" cy="234.59" r="1.81" fill="url(#dicf)"/>
<circle cx="644.08" cy="246.72" r="1.59" fill="url(#dicf)"/>
<circle cx="652.74" cy="266.65" r="1.62" fill="url(#dicf)"/>
<circle cx="652.03" cy="259.94" r="2.56" fill="url(#dicf)"/>
<circle cx="629.41" cy="249.24" r="2.63" fill="url(#dicf)"/>
<circle cx="632.06" cy="229.94" r="2.33" fill="url(#dicf)"/>
<circle cx="670.94" cy="226.90" r="2.11" fill="url(#dicf)"/>
<circle cx="648.05" cy="221.13" r="3.30" fill="url(#dicf)"/>
<circle cx="631.74" cy="242.53" r="2.63" fill="url(#dicf)"/>
<circle cx="669.36" cy="236.90" r="1.79" fill="url(#dicf)"/>
<circle cx="660.22" cy="257.43" r="1.86" fill="url(#dicf)"/>
<circle cx="665.81" cy="263.33" r="1.71" fill="url(#dicf)"/>
<circle cx="649.77" cy="226.49" r="2.50" fill="url(#dicf)"/>
<circle cx="630.03" cy="254.92" r="2.95" fill="url(#dicf)"/>
<circle cx="674.99" cy="220.05" r="2.95" fill="url(#dicf)"/>
<circle cx="623.90" cy="268.22" r="2.15" fill="url(#dicf)"/>
<circle cx="654.73" cy="237.81" r="4.05" fill="url(#dicf)"/>
<circle cx="675.53" cy="246.79" r="2.58" fill="url(#dicf)"/>
<circle cx="633.99" cy="220.84" r="2.09" fill="url(#dicf)"/>
<circle cx="664.91" cy="253.32" r="2.33" fill="url(#dicf)"/>
<circle cx="661.33" cy="262.99" r="2.29" fill="url(#dicf)"/>
<circle cx="628.96" cy="219.19" r="1.73" fill="url(#dicf)"/>
<circle cx="637.35" cy="266.47" r="3.04" fill="url(#dicf)"/>
<circle cx="665.45" cy="220.34" r="2.97" fill="url(#dicf)"/>
<circle cx="674.05" cy="237.97" r="1.52" fill="url(#dicf)"/>
<circle cx="674.61" cy="228.89" r="1.65" fill="url(#dicf)"/>
<circle cx="645.87" cy="249.78" r="1.76" fill="url(#dicf)"/>
<circle cx="623.51" cy="228.39" r="3.29" fill="url(#dicf)"/>
<circle cx="675.89" cy="271.27" r="2.57" fill="url(#dicf)"/>
<circle cx="640.66" cy="253.49" r="2.46" fill="url(#dicf)"/>
<circle cx="659.61" cy="230.72" r="1.59" fill="url(#dicf)"/>
<circle cx="622.65" cy="242.88" r="1.66" fill="url(#dicf)"/>
<circle cx="632.58" cy="268.88" r="1.79" fill="url(#dicf)"/>
<circle cx="675.54" cy="254.50" r="3.72" fill="url(#dicf)"/>
<circle cx="650.79" cy="247.89" r="2.01" fill="url(#dicf)"/>
<circle cx="623.29" cy="219.51" r="1.55" fill="url(#dicf)"/>
<circle cx="636.31" cy="252.92" r="1.85" fill="url(#dicf)"/>
<circle cx="661.82" cy="236.08" r="1.59" fill="url(#dicf)"/>
<circle cx="668.37" cy="254.34" r="1.64" fill="url(#dicf)"/>
<circle cx="670.54" cy="219.34" r="1.79" fill="url(#dicf)"/>
<circle cx="627.54" cy="232.74" r="2.07" fill="url(#dicf)"/>
<circle cx="649.05" cy="252.89" r="1.53" fill="url(#dicf)"/>
<circle cx="654.42" cy="231.67" r="1.65" fill="url(#dicf)"/>
<circle cx="627.24" cy="244.53" r="2.18" fill="url(#dicf)"/>
<circle cx="635.93" cy="232.39" r="2.14" fill="url(#dicf)"/>
<circle cx="644.65" cy="265.42" r="1.72" fill="url(#dicf)"/>
<circle cx="674.97" cy="235.25" r="1.58" fill="url(#dicf)"/>
</g>
<clipPath id="mcf1"><rect x="622.00" y="282.00" width="54.00" height="53.30"/></clipPath>
<g clip-path="url(#mcf1)">
<rect x="622.00" y="282.00" width="54.00" height="53.30" fill="#6e6e6e"/>
<circle cx="628.07" cy="303.10" r="1.40" fill="url(#dicf)"/>
<circle cx="629.49" cy="288.04" r="3.02" fill="url(#dicf)"/>
<circle cx="662.91" cy="289.92" r="1.88" fill="url(#dicf)"/>
<circle cx="657.76" cy="289.33" r="3.17" fill="url(#dicf)"/>
<circle cx="646.18" cy="304.16" r="2.63" fill="url(#dicf)"/>
<circle cx="643.76" cy="292.66" r="3.70" fill="url(#dicf)"/>
<circle cx="641.70" cy="333.29" r="2.11" fill="url(#dicf)"/>
<circle cx="633.71" cy="313.41" r="1.83" fill="url(#dicf)"/>
<circle cx="673.50" cy="327.04" r="2.66" fill="url(#dicf)"/>
<circle cx="633.01" cy="326.92" r="2.18" fill="url(#dicf)"/>
<circle cx="623.64" cy="321.47" r="3.83" fill="url(#dicf)"/>
<circle cx="640.05" cy="303.27" r="2.13" fill="url(#dicf)"/>
<circle cx="667.15" cy="333.62" r="2.92" fill="url(#dicf)"/>
<circle cx="671.73" cy="314.29" r="1.79" fill="url(#dicf)"/>
<circle cx="657.06" cy="335.25" r="3.62" fill="url(#dicf)"/>
<circle cx="646.56" cy="324.99" r="1.80" fill="url(#dicf)"/>
<circle cx="664.60" cy="312.16" r="2.40" fill="url(#dicf)"/>
<circle cx="627.34" cy="334.79" r="1.62" fill="url(#dicf)"/>
<circle cx="632.48" cy="300.00" r="1.62" fill="url(#dicf)"/>
<circle cx="668.12" cy="307.54" r="3.09" fill="url(#dicf)"/>
<circle cx="664.58" cy="296.93" r="2.53" fill="url(#dicf)"/>
<circle cx="655.09" cy="316.17" r="2.22" fill="url(#dicf)"/>
<circle cx="640.83" cy="282.60" r="3.82" fill="url(#dicf)"/>
<circle cx="637.26" cy="291.46" r="2.22" fill="url(#dicf)"/>
<circle cx="628.74" cy="328.46" r="1.46" fill="url(#dicf)"/>
<circle cx="646.56" cy="319.32" r="1.77" fill="url(#dicf)"/>
<circle cx="660.72" cy="306.78" r="2.60" fill="url(#dicf)"/>
<circle cx="664.29" cy="322.00" r="1.63" fill="url(#dicf)"/>
<circle cx="668.07" cy="288.38" r="1.72" fill="url(#dicf)"/>
<circle cx="670.35" cy="295.90" r="2.83" fill="url(#dicf)"/>
<circle cx="665.95" cy="301.54" r="1.81" fill="url(#dicf)"/>
<circle cx="641.89" cy="323.41" r="3.05" fill="url(#dicf)"/>
<circle cx="648.99" cy="332.23" r="2.49" fill="url(#dicf)"/>
<circle cx="638.05" cy="307.44" r="2.49" fill="url(#dicf)"/>
<circle cx="622.01" cy="302.39" r="1.39" fill="url(#dicf)"/>
<circle cx="654.68" cy="327.46" r="1.88" fill="url(#dicf)"/>
<circle cx="658.57" cy="311.76" r="2.26" fill="url(#dicf)"/>
<circle cx="660.11" cy="284.58" r="1.90" fill="url(#dicf)"/>
<circle cx="624.57" cy="298.79" r="1.67" fill="url(#dicf)"/>
<circle cx="644.08" cy="310.92" r="1.46" fill="url(#dicf)"/>
<circle cx="652.74" cy="330.85" r="1.49" fill="url(#dicf)"/>
<circle cx="652.03" cy="324.14" r="2.36" fill="url(#dicf)"/>
<circle cx="629.41" cy="313.44" r="2.42" fill="url(#dicf)"/>
<circle cx="632.06" cy="294.14" r="2.14" fill="url(#dicf)"/>
<circle cx="670.94" cy="291.10" r="1.94" fill="url(#dicf)"/>
<circle cx="648.05" cy="285.33" r="3.04" fill="url(#dicf)"/>
<circle cx="631.74" cy="306.73" r="2.42" fill="url(#dicf)"/>
<circle cx="669.36" cy="301.10" r="1.65" fill="url(#dicf)"/>
<circle cx="660.22" cy="321.63" r="1.72" fill="url(#dicf)"/>
<circle cx="665.81" cy="327.53" r="1.57" fill="url(#dicf)"/>
<circle cx="649.77" cy="290.69" r="2.30" fill="url(#dicf)"/>
<circle cx="630.03" cy="319.12" r="2.71" fill="url(#dicf)"/>
<circle cx="674.99" cy="284.25" r="2.71" fill="url(#dicf)"/>
<circle cx="623.90" cy="332.42" r="1.98" fill="url(#dicf)"/>
<circle cx="654.73" cy="302.01" r="3.73" fill="url(#dicf)"/>
<circle cx="675.53" cy="310.99" r="2.37" fill="url(#dicf)"/>
<circle cx="633.99" cy="285.04" r="1.92" fill="url(#dicf)"/>
<circle cx="664.91" cy="317.52" r="2.15" fill="url(#dicf)"/>
<circle cx="661.33" cy="327.19" r="2.11" fill="url(#dicf)"/>
<circle cx="628.96" cy="283.39" r="1.59" fill="url(#dicf)"/>
<circle cx="637.35" cy="330.67" r="2.80" fill="url(#dicf)"/>
<circle cx="665.45" cy="284.54" r="2.73" fill="url(#dicf)"/>
<circle cx="674.05" cy="302.17" r="1.40" fill="url(#dicf)"/>
<circle cx="674.61" cy="293.09" r="1.52" fill="url(#dicf)"/>
<circle cx="645.87" cy="313.98" r="1.62" fill="url(#dicf)"/>
<circle cx="623.51" cy="292.59" r="3.03" fill="url(#dicf)"/>
<circle cx="675.89" cy="335.47" r="2.36" fill="url(#dicf)"/>
<circle cx="640.66" cy="317.69" r="2.26" fill="url(#dicf)"/>
<circle cx="659.61" cy="294.92" r="1.46" fill="url(#dicf)"/>
<circle cx="622.65" cy="307.08" r="1.53" fill="url(#dicf)"/>
<circle cx="632.58" cy="333.08" r="1.64" fill="url(#dicf)"/>
<circle cx="675.54" cy="318.70" r="3.42" fill="url(#dicf)"/>
<circle cx="650.79" cy="312.09" r="1.85" fill="url(#dicf)"/>
<circle cx="623.29" cy="283.71" r="1.42" fill="url(#dicf)"/>
<circle cx="636.31" cy="317.12" r="1.70" fill="url(#dicf)"/>
<circle cx="661.82" cy="300.28" r="1.47" fill="url(#dicf)"/>
<circle cx="668.37" cy="318.54" r="1.51" fill="url(#dicf)"/>
<circle cx="670.54" cy="283.54" r="1.65" fill="url(#dicf)"/>
<circle cx="627.54" cy="296.94" r="1.91" fill="url(#dicf)"/>
<circle cx="649.05" cy="317.09" r="1.41" fill="url(#dicf)"/>
<circle cx="654.42" cy="295.87" r="1.52" fill="url(#dicf)"/>
<circle cx="627.24" cy="308.73" r="2.00" fill="url(#dicf)"/>
<circle cx="635.93" cy="296.59" r="1.97" fill="url(#dicf)"/>
<circle cx="644.65" cy="329.62" r="1.58" fill="url(#dicf)"/>
<circle cx="674.97" cy="299.45" r="1.45" fill="url(#dicf)"/>
</g>
<clipPath id="mcf2"><rect x="622.90" y="346.90" width="53.90" height="53.60"/></clipPath>
<g clip-path="url(#mcf2)">
<rect x="622.90" y="346.90" width="53.90" height="53.60" fill="#7c7c7c"/>
<circle cx="656.82" cy="390.30" r="0.50" fill="url(#dic)"/>
<circle cx="657.87" cy="394.21" r="0.40" fill="url(#dic)"/>
<circle cx="632.98" cy="381.54" r="0.65" fill="url(#dic)"/>
<circle cx="649.93" cy="398.21" r="0.52" fill="url(#dic)"/>
<circle cx="646.82" cy="397.01" r="0.48" fill="url(#dic)"/>
<circle cx="639.12" cy="363.39" r="0.53" fill="url(#dic)"/>
<circle cx="625.81" cy="379.20" r="0.47" fill="url(#dic)"/>
<circle cx="645.80" cy="391.87" r="0.57" fill="url(#dic)"/>
<circle cx="652.73" cy="383.11" r="0.66" fill="url(#dic)"/>
<circle cx="626.00" cy="398.94" r="0.36" fill="url(#dic)"/>
<circle cx="634.41" cy="394.52" r="0.40" fill="url(#dic)"/>
<circle cx="629.59" cy="364.05" r="0.58" fill="url(#dic)"/>
<circle cx="637.59" cy="347.34" r="0.39" fill="url(#dic)"/>
<circle cx="639.28" cy="367.89" r="0.48" fill="url(#dic)"/>
<circle cx="628.89" cy="348.74" r="0.38" fill="url(#dic)"/>
<circle cx="662.98" cy="376.66" r="0.64" fill="url(#dic)"/>
<circle cx="630.97" cy="353.34" r="0.37" fill="url(#dic)"/>
<circle cx="626.08" cy="361.60" r="0.41" fill="url(#dic)"/>
<circle cx="648.33" cy="365.98" r="0.46" fill="url(#dic)"/>
<circle cx="665.01" cy="363.32" r="0.49" fill="url(#dic)"/>
<circle cx="648.74" cy="367.10" r="0.36" fill="url(#dic)"/>
<circle cx="628.94" cy="393.25" r="0.59" fill="url(#dic)"/>
<circle cx="652.01" cy="370.51" r="0.35" fill="url(#dic)"/>
<circle cx="670.56" cy="384.21" r="0.41" fill="url(#dic)"/>
</g>
<line x1="646.70" y1="271.50" x2="646.70" y2="278.00" stroke="#000" stroke-width="1.8"/>
<polygon points="643.5,276 649.9000000000001,276 646.7,281.7" fill="#000"/>
<line x1="646.70" y1="335.30" x2="646.70" y2="342.60" stroke="#000" stroke-width="1.8"/>
<polygon points="643.5,340.6 649.9000000000001,340.6 646.7,346.3" fill="#000"/>
<text x="599.3" y="275.8" font-size="11" text-anchor="middle" fill="#000">Step 1</text>
<text x="599.4" y="289.4" font-size="11" text-anchor="middle" fill="#000">+TEV</text>
<text x="594.5" y="340.6" font-size="11" text-anchor="middle" fill="#000">Step 2</text>
<text x="597" y="353.8" font-size="11" text-anchor="middle" fill="#000">+HRV3C</text>
<line x1="625.00" y1="395.70" x2="634.00" y2="395.70" stroke="#fff" stroke-width="2"/>
<text x="-1.2" y="432.1" font-size="16.8" font-weight="bold" fill="#000">g</text>
<rect x="13.10" y="429.00" width="271.00" height="133.80" fill="#e3e1ea" stroke="none" stroke-width="1" rx="11"/>
<text x="42.9" y="447.2" font-size="11" fill="#000">Protease-mediated droplet assembly</text>
<text x="134.5" y="470" font-size="11" fill="#000">Protease</text>
<path d="M149.9 479.5C153.5 488 159 495 168.5 496.6" fill="none" stroke="#000" stroke-width="2.1"/>
<line x1="149.20" y1="496.60" x2="172.00" y2="496.60" stroke="#000" stroke-width="2.1"/>
<polygon points="169.8,492 179.6,496.6 169.8,501.2" fill="#000"/>
<circle cx="219" cy="497.2" r="24" fill="url(#sph)"/>
<g fill="none" stroke="#606060" stroke-width="2.5" stroke-linecap="round" stroke-linejoin="round"><path d="M48.7 472.4L60.8 482.0L53.4 484.8L54.7 491.5"/><path d="M56.8 469.2L64.0 473.5L68.8 469.2L71.5 478.5L75.5 469.3L83.5 469.2"/><path d="M91.0 471.0C89.4 472.8 83.3 477.0 83.0 480.0C82.7 483.0 86.5 485.9 89.7 486.2C92.9 486.5 97.2 482.4 99.1 481.5M99.1 481.5L99.7 487.5"/><path d="M105.8 484.8C107.0 483.8 110.3 480.9 113.0 479.0C115.7 477.1 119.6 474.1 121.9 473.4C124.2 472.6 125.8 473.4 127.0 474.5C128.2 475.6 128.9 477.8 129.3 480.1C129.7 482.4 129.3 486.9 129.3 488.2M129.3 488.2L107.1 488.2"/><path d="M66.2 491.6C65.0 491.7 60.3 490.5 58.8 492.2C57.3 493.9 56.5 498.8 57.4 501.6C58.3 504.4 61.8 508.0 64.1 509.0C66.3 510.0 69.8 509.4 70.9 507.7C72.0 506.0 70.6 502.4 70.9 498.9C71.2 495.4 71.9 489.5 72.9 486.9C73.9 484.3 75.6 483.5 76.9 483.5C78.2 483.5 80.2 486.3 80.9 486.9"/><path d="M82.9 494.9C83.8 495.5 87.3 495.8 87.6 498.3C87.9 500.8 86.6 505.8 84.3 508.3C82.0 510.8 76.5 510.0 74.9 511.7C73.3 513.4 75.5 516.6 75.6 517.7"/><path d="M102.4 500.3L94.4 505.0L97.7 511.0L95.7 513.7L101.8 515.1L107.1 503.0L105.8 496.3L115.8 505.7L112.5 513.7L109.1 512.4L109.8 503.0"/></g>
<text x="23" y="548.8" font-size="10.5" fill="#000">N</text>
<line x1="31.00" y1="545.40" x2="34.20" y2="545.40" stroke="#000" stroke-width="1.8"/>
<rect x="34.20" y="539.30" width="81.80" height="12.00" fill="#bd8fcd" stroke="#000" stroke-width="1.2"/>
<line x1="116.00" y1="545.40" x2="120.50" y2="545.40" stroke="#000" stroke-width="1.8"/>
<rect x="120.50" y="539.30" width="69.20" height="12.00" fill="#dcdcdc" stroke="#000" stroke-width="1.2"/>
<line x1="189.70" y1="545.40" x2="194.90" y2="545.40" stroke="#000" stroke-width="1.8"/>
<rect x="194.90" y="539.30" width="69.20" height="12.00" fill="#dcdcdc" stroke="#000" stroke-width="1.2"/>
<line x1="264.10" y1="545.40" x2="267.20" y2="545.40" stroke="#000" stroke-width="1.8"/>
<text x="74.5" y="549" font-size="9.4" text-anchor="middle" fill="#000">MBP</text>
<text x="154.4" y="549" font-size="9.4" text-anchor="middle" fill="#000">RGG domain</text>
<text x="228.8" y="549" font-size="9.4" text-anchor="middle" fill="#000">RGG domain</text>
<text x="269.2" y="548.8" font-size="10.5" fill="#000">C</text>
<polygon points="114.40,529.00 122.20,529.00 118.30,538.20" fill="#8b3fb0"/>
<text x="42.5" y="582.6" font-size="11" fill="#000">Trigger</text>
<circle cx="84.5" cy="579.5" r="3" fill="#000"/>
<line x1="84.50" y1="579.50" x2="226.00" y2="579.50" stroke="#000" stroke-width="1.4"/>
<polygon points="224,576.5 234.5,579.5 224,582.5" fill="#000"/>
<text x="-0.9" y="606.9" font-size="16.8" font-weight="bold" fill="#000">h</text>
<clipPath id="mch0"><rect x="30.70" y="603.40" width="73.40" height="80.00"/></clipPath>
<g clip-path="url(#mch0)">
<rect x="30.70" y="603.40" width="73.40" height="80.00" fill="#696969"/>
</g>
<text x="96.4" y="671.6" font-size="11" text-anchor="end" fill="#fff">0 min</text>
<clipPath id="mch1"><rect x="110.00" y="603.40" width="73.30" height="80.00"/></clipPath>
<g clip-path="url(#mch1)">
<rect x="110.00" y="603.40" width="73.30" height="80.00" fill="#6a6a6a"/>
<circle cx="146.81" cy="616.36" r="1.16" fill="url(#dich)" stroke="#484848" stroke-width="0.45"/>
<circle cx="126.96" cy="647.59" r="2.09" fill="url(#dich)" stroke="#484848" stroke-width="0.45"/>
<circle cx="139.13" cy="680.83" r="2.33" fill="url(#dich)" stroke="#484848" stroke-width="0.45"/>
<circle cx="150.18" cy="653.71" r="1.91" fill="url(#dich)" stroke="#484848" stroke-width="0.45"/>
<circle cx="182.12" cy="671.61" r="1.35" fill="url(#dich)" stroke="#484848" stroke-width="0.45"/>
<circle cx="128.93" cy="641.62" r="1.01" fill="url(#dich)" stroke="#484848" stroke-width="0.45"/>
<circle cx="123.02" cy="652.67" r="2.08" fill="url(#dich)" stroke="#484848" stroke-width="0.45"/>
<circle cx="167.59" cy="677.51" r="1.30" fill="url(#dich)" stroke="#484848" stroke-width="0.45"/>
<circle cx="124.17" cy="664.22" r="1.97" fill="url(#dich)" stroke="#484848" stroke-width="0.45"/>
<circle cx="171.37" cy="641.01" r="1.40" fill="url(#dich)" stroke="#484848" stroke-width="0.45"/>
<circle cx="170.04" cy="650.77" r="2.10" fill="url(#dich)" stroke="#484848" stroke-width="0.45"/>
<circle cx="182.29" cy="640.53" r="1.09" fill="url(#dich)" stroke="#484848" stroke-width="0.45"/>
<circle cx="141.85" cy="636.60" r="1.00" fill="url(#dich)" stroke="#484848" stroke-width="0.45"/>
<circle cx="180.39" cy="612.36" r="1.12" fill="url(#dich)" stroke="#484848" stroke-width="0.45"/>
<circle cx="150.30" cy="617.69" r="2.28" fill="url(#dich)" stroke="#484848" stroke-width="0.45"/>
<circle cx="143.01" cy="612.81" r="1.29" fill="url(#dich)" stroke="#484848" stroke-width="0.45"/>
<circle cx="157.76" cy="681.98" r="1.97" fill="url(#dich)" stroke="#484848" stroke-width="0.45"/>
<circle cx="167.61" cy="683.15" r="2.11" fill="url(#dich)" stroke="#484848" stroke-width="0.45"/>
<circle cx="157.20" cy="646.54" r="2.34" fill="url(#dich)" stroke="#484848" stroke-width="0.45"/>
<circle cx="171.51" cy="605.59" r="2.11" fill="url(#dich)" stroke="#484848" stroke-width="0.45"/>
<circle cx="116.39" cy="650.22" r="1.38" fill="url(#dich)" stroke="#484848" stroke-width="0.45"/>
<circle cx="151.10" cy="672.04" r="1.63" fill="url(#dich)" stroke="#484848" stroke-width="0.45"/>
<circle cx="163.42" cy="650.31" r="1.14" fill="url(#dich)" stroke="#484848" stroke-width="0.45"/>
<circle cx="181.72" cy="607.68" r="1.13" fill="url(#dich)" stroke="#484848" stroke-width="0.45"/>
<circle cx="140.95" cy="666.19" r="1.73" fill="url(#dich)" stroke="#484848" stroke-width="0.45"/>
<circle cx="144.03" cy="680.10" r="1.05" fill="url(#dich)" stroke="#484848" stroke-width="0.45"/>
<circle cx="158.40" cy="657.60" r="1.00" fill="url(#dich)" stroke="#484848" stroke-width="0.45"/>
<circle cx="150.86" cy="643.46" r="1.90" fill="url(#dich)" stroke="#484848" stroke-width="0.45"/>
<circle cx="130.76" cy="659.70" r="2.40" fill="url(#dich)" stroke="#484848" stroke-width="0.45"/>
<circle cx="163.39" cy="641.63" r="1.79" fill="url(#dich)" stroke="#484848" stroke-width="0.45"/>
<circle cx="166.84" cy="625.74" r="1.00" fill="url(#dich)" stroke="#484848" stroke-width="0.45"/>
<circle cx="182.36" cy="665.52" r="2.01" fill="url(#dich)" stroke="#484848" stroke-width="0.45"/>
<circle cx="172.83" cy="634.27" r="1.35" fill="url(#dich)" stroke="#484848" stroke-width="0.45"/>
<circle cx="150.51" cy="636.10" r="1.82" fill="url(#dich)" stroke="#484848" stroke-width="0.45"/>
<circle cx="133.78" cy="651.91" r="1.93" fill="url(#dich)" stroke="#484848" stroke-width="0.45"/>
<circle cx="119.60" cy="672.80" r="1.00" fill="url(#dich)" stroke="#484848" stroke-width="0.45"/>
<circle cx="140.25" cy="607.67" r="1.13" fill="url(#dich)" stroke="#484848" stroke-width="0.45"/>
<circle cx="134.07" cy="607.31" r="1.98" fill="url(#dich)" stroke="#484848" stroke-width="0.45"/>
<circle cx="178.21" cy="663.85" r="1.19" fill="url(#dich)" stroke="#484848" stroke-width="0.45"/>
<circle cx="179.90" cy="609.19" r="1.00" fill="url(#dich)" stroke="#484848" stroke-width="0.45"/>
<circle cx="149.17" cy="666.06" r="1.47" fill="url(#dich)" stroke="#484848" stroke-width="0.45"/>
<circle cx="170.47" cy="625.33" r="1.07" fill="url(#dich)" stroke="#484848" stroke-width="0.45"/>
<circle cx="177.94" cy="650.61" r="1.92" fill="url(#dich)" stroke="#484848" stroke-width="0.45"/>
<circle cx="158.90" cy="638.22" r="1.00" fill="url(#dich)" stroke="#484848" stroke-width="0.45"/>
<circle cx="167.50" cy="611.99" r="1.91" fill="url(#dich)" stroke="#484848" stroke-width="0.45"/>
<circle cx="157.17" cy="677.52" r="1.61" fill="url(#dich)" stroke="#484848" stroke-width="0.45"/>
<circle cx="155.07" cy="664.90" r="1.69" fill="url(#dich)" stroke="#484848" stroke-width="0.45"/>
<circle cx="121.34" cy="645.27" r="1.73" fill="url(#dich)" stroke="#484848" stroke-width="0.45"/>
<circle cx="125.08" cy="678.70" r="1.36" fill="url(#dich)" stroke="#484848" stroke-width="0.45"/>
<circle cx="172.71" cy="655.88" r="1.60" fill="url(#dich)" stroke="#484848" stroke-width="0.45"/>
<circle cx="147.59" cy="681.67" r="1.67" fill="url(#dich)" stroke="#484848" stroke-width="0.45"/>
<circle cx="136.11" cy="666.99" r="2.09" fill="url(#dich)" stroke="#484848" stroke-width="0.45"/>
<circle cx="180.91" cy="620.03" r="1.02" fill="url(#dich)" stroke="#484848" stroke-width="0.45"/>
<circle cx="124.16" cy="621.34" r="2.06" fill="url(#dich)" stroke="#484848" stroke-width="0.45"/>
<circle cx="169.28" cy="645.57" r="1.45" fill="url(#dich)" stroke="#484848" stroke-width="0.45"/>
<circle cx="111.22" cy="669.90" r="1.00" fill="url(#dich)" stroke="#484848" stroke-width="0.45"/>
<circle cx="116.10" cy="645.44" r="1.22" fill="url(#dich)" stroke="#484848" stroke-width="0.45"/>
<circle cx="132.22" cy="614.11" r="2.02" fill="url(#dich)" stroke="#484848" stroke-width="0.45"/>
<circle cx="144.76" cy="665.78" r="1.10" fill="url(#dich)" stroke="#484848" stroke-width="0.45"/>
<circle cx="165.78" cy="657.95" r="1.03" fill="url(#dich)" stroke="#484848" stroke-width="0.45"/>
<circle cx="140.17" cy="657.73" r="1.50" fill="url(#dich)" stroke="#484848" stroke-width="0.45"/>
<circle cx="122.14" cy="604.90" r="1.02" fill="url(#dich)" stroke="#484848" stroke-width="0.45"/>
<circle cx="134.25" cy="618.61" r="1.40" fill="url(#dich)" stroke="#484848" stroke-width="0.45"/>
<circle cx="139.49" cy="644.25" r="1.00" fill="url(#dich)" stroke="#484848" stroke-width="0.45"/>
<circle cx="146.64" cy="656.84" r="1.09" fill="url(#dich)" stroke="#484848" stroke-width="0.45"/>
<circle cx="165.68" cy="663.20" r="1.95" fill="url(#dich)" stroke="#484848" stroke-width="0.45"/>
<circle cx="154.86" cy="643.48" r="1.22" fill="url(#dich)" stroke="#484848" stroke-width="0.45"/>
<circle cx="118.92" cy="617.48" r="1.96" fill="url(#dich)" stroke="#484848" stroke-width="0.45"/>
<circle cx="163.07" cy="621.76" r="1.88" fill="url(#dich)" stroke="#484848" stroke-width="0.45"/>
<circle cx="114.19" cy="621.82" r="1.44" fill="url(#dich)" stroke="#484848" stroke-width="0.45"/>
<circle cx="178.30" cy="616.58" r="1.98" fill="url(#dich)" stroke="#484848" stroke-width="0.45"/>
<circle cx="135.60" cy="678.63" r="1.01" fill="url(#dich)" stroke="#484848" stroke-width="0.45"/>
<circle cx="182.63" cy="657.46" r="2.14" fill="url(#dich)" stroke="#484848" stroke-width="0.45"/>
<circle cx="135.90" cy="661.91" r="1.78" fill="url(#dich)" stroke="#484848" stroke-width="0.45"/>
<circle cx="164.93" cy="673.48" r="1.09" fill="url(#dich)" stroke="#484848" stroke-width="0.45"/>
<circle cx="144.95" cy="604.06" r="1.03" fill="url(#dich)" stroke="#484848" stroke-width="0.45"/>
<circle cx="120.60" cy="658.79" r="1.16" fill="url(#dich)" stroke="#484848" stroke-width="0.45"/>
<circle cx="126.92" cy="656.48" r="1.36" fill="url(#dich)" stroke="#484848" stroke-width="0.45"/>
<circle cx="173.91" cy="677.33" r="1.58" fill="url(#dich)" stroke="#484848" stroke-width="0.45"/>
<circle cx="163.25" cy="625.23" r="1.18" fill="url(#dich)" stroke="#484848" stroke-width="0.45"/>
<circle cx="172.36" cy="618.66" r="1.00" fill="url(#dich)" stroke="#484848" stroke-width="0.45"/>
<circle cx="162.64" cy="671.42" r="1.20" fill="url(#dich)" stroke="#484848" stroke-width="0.45"/>
<circle cx="162.48" cy="635.10" r="1.33" fill="url(#dich)" stroke="#484848" stroke-width="0.45"/>
<circle cx="139.90" cy="654.93" r="1.12" fill="url(#dich)" stroke="#484848" stroke-width="0.45"/>
<circle cx="151.10" cy="657.31" r="1.19" fill="url(#dich)" stroke="#484848" stroke-width="0.45"/>
<circle cx="175.83" cy="680.78" r="1.23" fill="url(#dich)" stroke="#484848" stroke-width="0.45"/>
<circle cx="114.80" cy="612.14" r="1.01" fill="url(#dich)" stroke="#484848" stroke-width="0.45"/>
<circle cx="143.23" cy="625.32" r="2.46" fill="url(#dich)" stroke="#484848" stroke-width="0.45"/>
<circle cx="176.79" cy="668.59" r="1.13" fill="url(#dich)" stroke="#484848" stroke-width="0.45"/>
<circle cx="137.18" cy="646.57" r="1.83" fill="url(#dich)" stroke="#484848" stroke-width="0.45"/>
<circle cx="127.78" cy="605.16" r="1.61" fill="url(#dich)" stroke="#484848" stroke-width="0.45"/>
<circle cx="164.66" cy="644.97" r="1.31" fill="url(#dich)" stroke="#484848" stroke-width="0.45"/>
<circle cx="172.60" cy="612.79" r="1.54" fill="url(#dich)" stroke="#484848" stroke-width="0.45"/>
<circle cx="128.11" cy="621.58" r="1.24" fill="url(#dich)" stroke="#484848" stroke-width="0.45"/>
<circle cx="121.17" cy="668.74" r="1.10" fill="url(#dich)" stroke="#484848" stroke-width="0.45"/>
<circle cx="181.23" cy="653.40" r="1.53" fill="url(#dich)" stroke="#484848" stroke-width="0.45"/>
<circle cx="139.85" cy="638.81" r="1.14" fill="url(#dich)" stroke="#484848" stroke-width="0.45"/>
<circle cx="111.84" cy="611.50" r="1.25" fill="url(#dich)" stroke="#484848" stroke-width="0.45"/>
<circle cx="124.56" cy="640.72" r="1.30" fill="url(#dich)" stroke="#484848" stroke-width="0.45"/>
<circle cx="127.03" cy="631.64" r="2.43" fill="url(#dich)" stroke="#484848" stroke-width="0.45"/>
<circle cx="110.95" cy="634.84" r="2.46" fill="url(#dich)" stroke="#484848" stroke-width="0.45"/>
<circle cx="111.39" cy="647.89" r="2.07" fill="url(#dich)" stroke="#484848" stroke-width="0.45"/>
<circle cx="113.58" cy="641.77" r="1.14" fill="url(#dich)" stroke="#484848" stroke-width="0.45"/>
<circle cx="128.60" cy="681.99" r="2.46" fill="url(#dich)" stroke="#484848" stroke-width="0.45"/>
<circle cx="144.53" cy="639.77" r="2.46" fill="url(#dich)" stroke="#484848" stroke-width="0.45"/>
<circle cx="138.49" cy="673.23" r="1.69" fill="url(#dich)" stroke="#484848" stroke-width="0.45"/>
<circle cx="178.29" cy="676.41" r="1.13" fill="url(#dich)" stroke="#484848" stroke-width="0.45"/>
<circle cx="131.51" cy="676.28" r="1.16" fill="url(#dich)" stroke="#484848" stroke-width="0.45"/>
<circle cx="131.39" cy="671.08" r="1.76" fill="url(#dich)" stroke="#484848" stroke-width="0.45"/>
<circle cx="110.88" cy="678.41" r="1.78" fill="url(#dich)" stroke="#484848" stroke-width="0.45"/>
<circle cx="163.65" cy="610.10" r="1.92" fill="url(#dich)" stroke="#484848" stroke-width="0.45"/>
<circle cx="115.78" cy="664.15" r="1.00" fill="url(#dich)" stroke="#484848" stroke-width="0.45"/>
<circle cx="131.08" cy="629.56" r="1.01" fill="url(#dich)" stroke="#484848" stroke-width="0.45"/>
<circle cx="144.42" cy="669.34" r="1.34" fill="url(#dich)" stroke="#484848" stroke-width="0.45"/>
<circle cx="154.01" cy="649.40" r="1.04" fill="url(#dich)" stroke="#484848" stroke-width="0.45"/>
</g>
<text x="174.6" y="671.6" font-size="11" text-anchor="end" fill="#fff">30 min</text>
<clipPath id="mch2"><rect x="189.30" y="603.40" width="74.70" height="80.00"/></clipPath>
<g clip-path="url(#mch2)">
<rect x="189.30" y="603.40" width="74.70" height="80.00" fill="#6a6a6a"/>
<circle cx="193.37" cy="661.45" r="3.51" fill="url(#dich)" stroke="#484848" stroke-width="0.45"/>
<circle cx="259.65" cy="635.95" r="1.90" fill="url(#dich)" stroke="#484848" stroke-width="0.45"/>
<circle cx="201.19" cy="682.98" r="3.28" fill="url(#dich)" stroke="#484848" stroke-width="0.45"/>
<circle cx="202.98" cy="631.09" r="1.73" fill="url(#dich)" stroke="#484848" stroke-width="0.45"/>
<circle cx="191.85" cy="634.37" r="2.30" fill="url(#dich)" stroke="#484848" stroke-width="0.45"/>
<circle cx="194.48" cy="617.02" r="1.20" fill="url(#dich)" stroke="#484848" stroke-width="0.45"/>
<circle cx="209.79" cy="665.65" r="1.40" fill="url(#dich)" stroke="#484848" stroke-width="0.45"/>
<circle cx="253.35" cy="675.28" r="1.74" fill="url(#dich)" stroke="#484848" stroke-width="0.45"/>
<circle cx="260.09" cy="649.47" r="3.19" fill="url(#dich)" stroke="#484848" stroke-width="0.45"/>
<circle cx="228.18" cy="645.81" r="1.29" fill="url(#dich)" stroke="#484848" stroke-width="0.45"/>
<circle cx="249.98" cy="655.93" r="2.50" fill="url(#dich)" stroke="#484848" stroke-width="0.45"/>
<circle cx="191.43" cy="603.74" r="1.76" fill="url(#dich)" stroke="#484848" stroke-width="0.45"/>
<circle cx="228.86" cy="639.93" r="2.37" fill="url(#dich)" stroke="#484848" stroke-width="0.45"/>
<circle cx="198.51" cy="617.80" r="1.32" fill="url(#dich)" stroke="#484848" stroke-width="0.45"/>
<circle cx="234.08" cy="627.97" r="1.27" fill="url(#dich)" stroke="#484848" stroke-width="0.45"/>
<circle cx="221.36" cy="647.23" r="2.08" fill="url(#dich)" stroke="#484848" stroke-width="0.45"/>
<circle cx="247.60" cy="615.38" r="2.65" fill="url(#dich)" stroke="#484848" stroke-width="0.45"/>
<circle cx="253.03" cy="668.99" r="3.44" fill="url(#dich)" stroke="#484848" stroke-width="0.45"/>
<circle cx="260.41" cy="668.40" r="1.82" fill="url(#dich)" stroke="#484848" stroke-width="0.45"/>
<circle cx="240.61" cy="671.33" r="1.41" fill="url(#dich)" stroke="#484848" stroke-width="0.45"/>
<circle cx="243.39" cy="675.59" r="1.29" fill="url(#dich)" stroke="#484848" stroke-width="0.45"/>
<circle cx="194.54" cy="606.87" r="1.65" fill="url(#dich)" stroke="#484848" stroke-width="0.45"/>
<circle cx="200.95" cy="662.53" r="1.98" fill="url(#dich)" stroke="#484848" stroke-width="0.45"/>
<circle cx="226.66" cy="657.09" r="2.23" fill="url(#dich)" stroke="#484848" stroke-width="0.45"/>
<circle cx="223.54" cy="607.10" r="1.30" fill="url(#dich)" stroke="#484848" stroke-width="0.45"/>
<circle cx="263.56" cy="629.29" r="2.47" fill="url(#dich)" stroke="#484848" stroke-width="0.45"/>
<circle cx="208.15" cy="670.07" r="1.37" fill="url(#dich)" stroke="#484848" stroke-width="0.45"/>
<circle cx="247.26" cy="624.33" r="1.23" fill="url(#dich)" stroke="#484848" stroke-width="0.45"/>
<circle cx="230.24" cy="628.74" r="1.35" fill="url(#dich)" stroke="#484848" stroke-width="0.45"/>
<circle cx="211.34" cy="616.91" r="3.11" fill="url(#dich)" stroke="#484848" stroke-width="0.45"/>
<circle cx="195.75" cy="621.22" r="1.72" fill="url(#dich)" stroke="#484848" stroke-width="0.45"/>
<circle cx="238.28" cy="643.98" r="1.46" fill="url(#dich)" stroke="#484848" stroke-width="0.45"/>
<circle cx="197.98" cy="639.56" r="3.29" fill="url(#dich)" stroke="#484848" stroke-width="0.45"/>
<circle cx="234.79" cy="607.97" r="3.21" fill="url(#dich)" stroke="#484848" stroke-width="0.45"/>
<circle cx="208.97" cy="644.87" r="2.76" fill="url(#dich)" stroke="#484848" stroke-width="0.45"/>
<circle cx="212.71" cy="622.93" r="2.90" fill="url(#dich)" stroke="#484848" stroke-width="0.45"/>
<circle cx="214.91" cy="611.56" r="1.26" fill="url(#dich)" stroke="#484848" stroke-width="0.45"/>
<circle cx="251.29" cy="607.85" r="2.49" fill="url(#dich)" stroke="#484848" stroke-width="0.45"/>
<circle cx="248.47" cy="665.63" r="2.01" fill="url(#dich)" stroke="#484848" stroke-width="0.45"/>
<circle cx="263.94" cy="676.24" r="1.99" fill="url(#dich)" stroke="#484848" stroke-width="0.45"/>
<circle cx="232.54" cy="624.65" r="2.18" fill="url(#dich)" stroke="#484848" stroke-width="0.45"/>
<circle cx="237.60" cy="664.64" r="1.72" fill="url(#dich)" stroke="#484848" stroke-width="0.45"/>
<circle cx="224.53" cy="675.57" r="1.23" fill="url(#dich)" stroke="#484848" stroke-width="0.45"/>
<circle cx="229.27" cy="665.06" r="1.95" fill="url(#dich)" stroke="#484848" stroke-width="0.45"/>
<circle cx="209.82" cy="654.31" r="2.34" fill="url(#dich)" stroke="#484848" stroke-width="0.45"/>
<circle cx="218.20" cy="667.48" r="1.58" fill="url(#dich)" stroke="#484848" stroke-width="0.45"/>
<circle cx="198.44" cy="674.51" r="1.86" fill="url(#dich)" stroke="#484848" stroke-width="0.45"/>
<circle cx="191.29" cy="622.07" r="1.75" fill="url(#dich)" stroke="#484848" stroke-width="0.45"/>
<circle cx="256.76" cy="627.83" r="1.30" fill="url(#dich)" stroke="#484848" stroke-width="0.45"/>
<circle cx="190.06" cy="610.53" r="3.32" fill="url(#dich)" stroke="#484848" stroke-width="0.45"/>
<circle cx="261.28" cy="678.94" r="1.56" fill="url(#dich)" stroke="#484848" stroke-width="0.45"/>
<circle cx="218.79" cy="658.22" r="3.58" fill="url(#dich)" stroke="#484848" stroke-width="0.45"/>
<circle cx="242.28" cy="634.02" r="3.40" fill="url(#dich)" stroke="#484848" stroke-width="0.45"/>
<circle cx="198.46" cy="666.02" r="1.97" fill="url(#dich)" stroke="#484848" stroke-width="0.45"/>
<circle cx="213.51" cy="638.01" r="2.35" fill="url(#dich)" stroke="#484848" stroke-width="0.45"/>
<circle cx="248.32" cy="646.71" r="2.29" fill="url(#dich)" stroke="#484848" stroke-width="0.45"/>
<circle cx="190.06" cy="649.06" r="2.30" fill="url(#dich)" stroke="#484848" stroke-width="0.45"/>
<circle cx="194.78" cy="645.74" r="2.08" fill="url(#dich)" stroke="#484848" stroke-width="0.45"/>
<circle cx="215.09" cy="666.69" r="1.43" fill="url(#dich)" stroke="#484848" stroke-width="0.45"/>
<circle cx="192.02" cy="638.39" r="1.22" fill="url(#dich)" stroke="#484848" stroke-width="0.45"/>
<circle cx="201.62" cy="606.86" r="1.31" fill="url(#dich)" stroke="#484848" stroke-width="0.45"/>
<circle cx="208.94" cy="649.86" r="1.85" fill="url(#dich)" stroke="#484848" stroke-width="0.45"/>
<circle cx="223.81" cy="639.89" r="1.58" fill="url(#dich)" stroke="#484848" stroke-width="0.45"/>
<circle cx="262.56" cy="662.63" r="2.51" fill="url(#dich)" stroke="#484848" stroke-width="0.45"/>
<circle cx="198.10" cy="612.52" r="1.20" fill="url(#dich)" stroke="#484848" stroke-width="0.45"/>
<circle cx="222.07" cy="612.64" r="1.38" fill="url(#dich)" stroke="#484848" stroke-width="0.45"/>
<circle cx="255.65" cy="616.91" r="3.52" fill="url(#dich)" stroke="#484848" stroke-width="0.45"/>
<circle cx="259.98" cy="623.66" r="2.17" fill="url(#dich)" stroke="#484848" stroke-width="0.45"/>
<circle cx="236.40" cy="680.22" r="2.14" fill="url(#dich)" stroke="#484848" stroke-width="0.45"/>
<circle cx="250.65" cy="622.86" r="1.36" fill="url(#dich)" stroke="#484848" stroke-width="0.45"/>
<circle cx="228.51" cy="622.20" r="1.31" fill="url(#dich)" stroke="#484848" stroke-width="0.45"/>
<circle cx="243.16" cy="642.71" r="2.08" fill="url(#dich)" stroke="#484848" stroke-width="0.45"/>
<circle cx="226.59" cy="618.97" r="2.00" fill="url(#dich)" stroke="#484848" stroke-width="0.45"/>
<circle cx="262.81" cy="642.21" r="2.69" fill="url(#dich)" stroke="#484848" stroke-width="0.45"/>
<circle cx="231.07" cy="678.58" r="1.51" fill="url(#dich)" stroke="#484848" stroke-width="0.45"/>
<circle cx="260.94" cy="615.10" r="1.39" fill="url(#dich)" stroke="#484848" stroke-width="0.45"/>
<circle cx="216.40" cy="663.83" r="1.56" fill="url(#dich)" stroke="#484848" stroke-width="0.45"/>
<circle cx="250.01" cy="683.40" r="1.87" fill="url(#dich)" stroke="#484848" stroke-width="0.45"/>
<circle cx="217.09" cy="615.87" r="2.15" fill="url(#dich)" stroke="#484848" stroke-width="0.45"/>
<circle cx="217.52" cy="626.69" r="2.96" fill="url(#dich)" stroke="#484848" stroke-width="0.45"/>
<circle cx="213.80" cy="654.19" r="1.26" fill="url(#dich)" stroke="#484848" stroke-width="0.45"/>
<circle cx="236.14" cy="625.26" r="1.24" fill="url(#dich)" stroke="#484848" stroke-width="0.45"/>
<circle cx="238.56" cy="630.18" r="1.39" fill="url(#dich)" stroke="#484848" stroke-width="0.45"/>
<circle cx="192.87" cy="677.80" r="1.28" fill="url(#dich)" stroke="#484848" stroke-width="0.45"/>
<circle cx="243.44" cy="655.85" r="2.60" fill="url(#dich)" stroke="#484848" stroke-width="0.45"/>
<circle cx="195.19" cy="654.82" r="2.63" fill="url(#dich)" stroke="#484848" stroke-width="0.45"/>
<circle cx="194.26" cy="628.48" r="2.25" fill="url(#dich)" stroke="#484848" stroke-width="0.45"/>
<circle cx="201.96" cy="646.76" r="3.33" fill="url(#dich)" stroke="#484848" stroke-width="0.45"/>
<circle cx="241.24" cy="610.90" r="1.35" fill="url(#dich)" stroke="#484848" stroke-width="0.45"/>
<circle cx="192.34" cy="668.56" r="1.40" fill="url(#dich)" stroke="#484848" stroke-width="0.45"/>
<circle cx="228.35" cy="651.06" r="1.30" fill="url(#dich)" stroke="#484848" stroke-width="0.45"/>
<circle cx="220.33" cy="674.30" r="2.13" fill="url(#dich)" stroke="#484848" stroke-width="0.45"/>
<circle cx="205.52" cy="636.03" r="2.27" fill="url(#dich)" stroke="#484848" stroke-width="0.45"/>
<circle cx="253.94" cy="639.85" r="1.65" fill="url(#dich)" stroke="#484848" stroke-width="0.45"/>
<circle cx="203.02" cy="657.43" r="1.21" fill="url(#dich)" stroke="#484848" stroke-width="0.45"/>
<circle cx="216.62" cy="633.00" r="2.43" fill="url(#dich)" stroke="#484848" stroke-width="0.45"/>
<circle cx="263.38" cy="605.93" r="1.79" fill="url(#dich)" stroke="#484848" stroke-width="0.45"/>
<circle cx="211.09" cy="606.25" r="1.41" fill="url(#dich)" stroke="#484848" stroke-width="0.45"/>
<circle cx="221.79" cy="680.04" r="1.25" fill="url(#dich)" stroke="#484848" stroke-width="0.45"/>
<circle cx="219.00" cy="619.23" r="1.47" fill="url(#dich)" stroke="#484848" stroke-width="0.45"/>
<circle cx="236.37" cy="653.94" r="1.66" fill="url(#dich)" stroke="#484848" stroke-width="0.45"/>
<circle cx="224.76" cy="670.54" r="3.05" fill="url(#dich)" stroke="#484848" stroke-width="0.45"/>
<circle cx="242.69" cy="606.88" r="1.66" fill="url(#dich)" stroke="#484848" stroke-width="0.45"/>
<circle cx="235.86" cy="638.41" r="1.52" fill="url(#dich)" stroke="#484848" stroke-width="0.45"/>
<circle cx="223.12" cy="616.81" r="1.29" fill="url(#dich)" stroke="#484848" stroke-width="0.45"/>
<circle cx="208.10" cy="675.49" r="2.87" fill="url(#dich)" stroke="#484848" stroke-width="0.45"/>
<circle cx="258.20" cy="655.63" r="1.21" fill="url(#dich)" stroke="#484848" stroke-width="0.45"/>
<circle cx="249.55" cy="661.58" r="1.26" fill="url(#dich)" stroke="#484848" stroke-width="0.45"/>
<circle cx="248.16" cy="680.09" r="1.34" fill="url(#dich)" stroke="#484848" stroke-width="0.45"/>
<circle cx="203.27" cy="677.55" r="1.32" fill="url(#dich)" stroke="#484848" stroke-width="0.45"/>
<circle cx="263.94" cy="635.93" r="1.70" fill="url(#dich)" stroke="#484848" stroke-width="0.45"/>
<circle cx="200.88" cy="624.54" r="2.68" fill="url(#dich)" stroke="#484848" stroke-width="0.45"/>
<circle cx="204.40" cy="608.48" r="1.80" fill="url(#dich)" stroke="#484848" stroke-width="0.45"/>
<circle cx="230.55" cy="648.58" r="1.68" fill="url(#dich)" stroke="#484848" stroke-width="0.45"/>
<circle cx="242.23" cy="615.72" r="1.50" fill="url(#dich)" stroke="#484848" stroke-width="0.45"/>
<circle cx="199.10" cy="632.61" r="1.75" fill="url(#dich)" stroke="#484848" stroke-width="0.45"/>
<circle cx="252.92" cy="680.36" r="1.85" fill="url(#dich)" stroke="#484848" stroke-width="0.45"/>
<circle cx="223.23" cy="662.86" r="1.25" fill="url(#dich)" stroke="#484848" stroke-width="0.45"/>
<circle cx="215.81" cy="683.33" r="1.78" fill="url(#dich)" stroke="#484848" stroke-width="0.45"/>
<circle cx="216.14" cy="646.69" r="2.60" fill="url(#dich)" stroke="#484848" stroke-width="0.45"/>
<circle cx="249.61" cy="625.99" r="1.28" fill="url(#dich)" stroke="#484848" stroke-width="0.45"/>
<circle cx="194.69" cy="682.15" r="1.58" fill="url(#dich)" stroke="#484848" stroke-width="0.45"/>
<circle cx="230.29" cy="613.74" r="1.41" fill="url(#dich)" stroke="#484848" stroke-width="0.45"/>
<circle cx="204.93" cy="662.93" r="1.50" fill="url(#dich)" stroke="#484848" stroke-width="0.45"/>
<circle cx="251.84" cy="612.64" r="1.46" fill="url(#dich)" stroke="#484848" stroke-width="0.45"/>
<circle cx="211.82" cy="679.01" r="2.03" fill="url(#dich)" stroke="#484848" stroke-width="0.45"/>
<circle cx="195.98" cy="670.44" r="1.21" fill="url(#dich)" stroke="#484848" stroke-width="0.45"/>
<circle cx="210.11" cy="629.85" r="2.16" fill="url(#dich)" stroke="#484848" stroke-width="0.45"/>
<circle cx="260.21" cy="675.24" r="1.76" fill="url(#dich)" stroke="#484848" stroke-width="0.45"/>
<circle cx="191.51" cy="681.21" r="1.53" fill="url(#dich)" stroke="#484848" stroke-width="0.45"/>
<circle cx="247.02" cy="675.93" r="1.91" fill="url(#dich)" stroke="#484848" stroke-width="0.45"/>
<circle cx="200.64" cy="613.97" r="1.38" fill="url(#dich)" stroke="#484848" stroke-width="0.45"/>
<circle cx="246.84" cy="628.84" r="2.02" fill="url(#dich)" stroke="#484848" stroke-width="0.45"/>
<circle cx="239.43" cy="623.95" r="1.78" fill="url(#dich)" stroke="#484848" stroke-width="0.45"/>
<circle cx="207.49" cy="683.05" r="1.23" fill="url(#dich)" stroke="#484848" stroke-width="0.45"/>
<circle cx="263.82" cy="617.15" r="1.25" fill="url(#dich)" stroke="#484848" stroke-width="0.45"/>
<circle cx="217.12" cy="671.13" r="1.75" fill="url(#dich)" stroke="#484848" stroke-width="0.45"/>
<circle cx="237.91" cy="617.90" r="1.38" fill="url(#dich)" stroke="#484848" stroke-width="0.45"/>
<circle cx="258.38" cy="662.02" r="1.20" fill="url(#dich)" stroke="#484848" stroke-width="0.45"/>
<circle cx="214.03" cy="673.75" r="1.78" fill="url(#dich)" stroke="#484848" stroke-width="0.45"/>
<circle cx="220.70" cy="663.52" r="1.20" fill="url(#dich)" stroke="#484848" stroke-width="0.45"/>
<circle cx="231.20" cy="658.93" r="1.32" fill="url(#dich)" stroke="#484848" stroke-width="0.45"/>
<circle cx="204.94" cy="618.99" r="1.63" fill="url(#dich)" stroke="#484848" stroke-width="0.45"/>
<circle cx="253.22" cy="659.13" r="1.59" fill="url(#dich)" stroke="#484848" stroke-width="0.45"/>
<circle cx="235.60" cy="671.57" r="2.67" fill="url(#dich)" stroke="#484848" stroke-width="0.45"/>
<circle cx="217.31" cy="605.43" r="1.39" fill="url(#dich)" stroke="#484848" stroke-width="0.45"/>
<circle cx="227.24" cy="662.40" r="1.22" fill="url(#dich)" stroke="#484848" stroke-width="0.45"/>
<circle cx="214.12" cy="629.82" r="1.26" fill="url(#dich)" stroke="#484848" stroke-width="0.45"/>
<circle cx="243.61" cy="664.02" r="1.40" fill="url(#dich)" stroke="#484848" stroke-width="0.45"/>
<circle cx="259.30" cy="683.17" r="1.45" fill="url(#dich)" stroke="#484848" stroke-width="0.45"/>
<circle cx="224.73" cy="628.13" r="2.98" fill="url(#dich)" stroke="#484848" stroke-width="0.45"/>
<circle cx="209.64" cy="636.80" r="1.42" fill="url(#dich)" stroke="#484848" stroke-width="0.45"/>
<circle cx="206.70" cy="604.08" r="2.28" fill="url(#dich)" stroke="#484848" stroke-width="0.45"/>
<circle cx="236.57" cy="620.79" r="1.52" fill="url(#dich)" stroke="#484848" stroke-width="0.45"/>
<circle cx="238.36" cy="657.26" r="1.49" fill="url(#dich)" stroke="#484848" stroke-width="0.45"/>
<circle cx="230.99" cy="670.84" r="1.56" fill="url(#dich)" stroke="#484848" stroke-width="0.45"/>
<circle cx="255.63" cy="609.80" r="1.55" fill="url(#dich)" stroke="#484848" stroke-width="0.45"/>
<circle cx="231.56" cy="631.73" r="1.33" fill="url(#dich)" stroke="#484848" stroke-width="0.45"/>
<circle cx="232.64" cy="654.41" r="1.72" fill="url(#dich)" stroke="#484848" stroke-width="0.45"/>
<circle cx="227.55" cy="635.62" r="1.88" fill="url(#dich)" stroke="#484848" stroke-width="0.45"/>
<circle cx="242.80" cy="624.09" r="1.22" fill="url(#dich)" stroke="#484848" stroke-width="0.45"/>
<circle cx="233.99" cy="664.75" r="1.35" fill="url(#dich)" stroke="#484848" stroke-width="0.45"/>
<circle cx="259.54" cy="607.17" r="1.59" fill="url(#dich)" stroke="#484848" stroke-width="0.45"/>
<circle cx="203.64" cy="652.17" r="1.31" fill="url(#dich)" stroke="#484848" stroke-width="0.45"/>
<circle cx="219.19" cy="682.32" r="1.46" fill="url(#dich)" stroke="#484848" stroke-width="0.45"/>
<circle cx="242.38" cy="651.02" r="1.20" fill="url(#dich)" stroke="#484848" stroke-width="0.45"/>
<circle cx="249.33" cy="642.29" r="1.89" fill="url(#dich)" stroke="#484848" stroke-width="0.45"/>
<circle cx="254.61" cy="633.30" r="1.21" fill="url(#dich)" stroke="#484848" stroke-width="0.45"/>
<circle cx="220.82" cy="650.63" r="1.21" fill="url(#dich)" stroke="#484848" stroke-width="0.45"/>
<circle cx="197.41" cy="650.22" r="1.57" fill="url(#dich)" stroke="#484848" stroke-width="0.45"/>
<circle cx="249.40" cy="631.86" r="1.41" fill="url(#dich)" stroke="#484848" stroke-width="0.45"/>
<circle cx="238.09" cy="649.24" r="1.89" fill="url(#dich)" stroke="#484848" stroke-width="0.45"/>
<circle cx="260.52" cy="619.80" r="1.47" fill="url(#dich)" stroke="#484848" stroke-width="0.45"/>
<circle cx="207.49" cy="640.73" r="1.44" fill="url(#dich)" stroke="#484848" stroke-width="0.45"/>
<circle cx="227.62" cy="678.23" r="1.34" fill="url(#dich)" stroke="#484848" stroke-width="0.45"/>
<circle cx="205.65" cy="654.78" r="1.20" fill="url(#dich)" stroke="#484848" stroke-width="0.45"/>
<circle cx="261.23" cy="656.66" r="1.24" fill="url(#dich)" stroke="#484848" stroke-width="0.45"/>
<circle cx="256.28" cy="604.33" r="1.47" fill="url(#dich)" stroke="#484848" stroke-width="0.45"/>
<circle cx="205.59" cy="680.52" r="1.20" fill="url(#dich)" stroke="#484848" stroke-width="0.45"/>
<circle cx="212.14" cy="609.64" r="1.24" fill="url(#dich)" stroke="#484848" stroke-width="0.45"/>
<circle cx="216.74" cy="641.14" r="1.36" fill="url(#dich)" stroke="#484848" stroke-width="0.45"/>
<circle cx="256.10" cy="659.80" r="1.26" fill="url(#dich)" stroke="#484848" stroke-width="0.45"/>
<circle cx="250.52" cy="636.99" r="2.07" fill="url(#dich)" stroke="#484848" stroke-width="0.45"/>
<circle cx="243.56" cy="661.07" r="1.35" fill="url(#dich)" stroke="#484848" stroke-width="0.45"/>
<circle cx="206.16" cy="624.94" r="1.52" fill="url(#dich)" stroke="#484848" stroke-width="0.45"/>
</g>
<text x="254" y="671.6" font-size="11" text-anchor="end" fill="#fff">60 min</text>
<line x1="34.20" y1="669.30" x2="46.00" y2="669.30" stroke="#fff" stroke-width="2.4"/>
<text x="309.9" y="431.8" font-size="16.8" font-weight="bold" fill="#000">i</text>
<line x1="339.80" y1="449.30" x2="339.80" y2="629.10" stroke="#000" stroke-width="1.1"/>
<line x1="339.30" y1="628.60" x2="451.70" y2="628.60" stroke="#000" stroke-width="1.1"/>
<line x1="339.80" y1="628.50" x2="342.30" y2="628.50" stroke="#000" stroke-width="0.9"/>
<text x="334.2" y="631.9" font-size="11" text-anchor="end" fill="#000">0</text>
<line x1="339.80" y1="568.84" x2="342.30" y2="568.84" stroke="#000" stroke-width="0.9"/>
<text x="334.2" y="572.24" font-size="11" text-anchor="end" fill="#000">2</text>
<line x1="339.80" y1="509.18" x2="342.30" y2="509.18" stroke="#000" stroke-width="0.9"/>
<text x="334.2" y="512.58" font-size="11" text-anchor="end" fill="#000">4</text>
<line x1="339.80" y1="449.52" x2="342.30" y2="449.52" stroke="#000" stroke-width="0.9"/>
<text x="334.2" y="452.92" font-size="11" text-anchor="end" fill="#000">6</text>
<line x1="339.80" y1="628.60" x2="339.80" y2="626.00" stroke="#000" stroke-width="0.9"/>
<text x="339.8" y="642.6" font-size="11" text-anchor="middle" fill="#000">0</text>
<line x1="390.30" y1="628.60" x2="390.30" y2="626.00" stroke="#000" stroke-width="0.9"/>
<text x="390.3" y="642.6" font-size="11" text-anchor="middle" fill="#000">50</text>
<line x1="440.80" y1="628.60" x2="440.80" y2="626.00" stroke="#000" stroke-width="0.9"/>
<text x="440.8" y="642.6" font-size="11" text-anchor="middle" fill="#000">100</text>
<text x="395" y="656.2" font-size="11" text-anchor="middle" fill="#000">Time (min)</text>
<text x="319.5" y="540.6" font-size="11" text-anchor="middle" fill="#000" transform="rotate(-90 319.5 540.6)">Droplet diameter (µm)</text>
<polyline points="350.0,598.8 351.0,592.4 352.0,592.2 353.0,595.2 354.0,592.5 355.1,592.0 356.1,589.5 357.1,587.6 358.1,592.1 359.1,591.7 360.1,584.6 361.1,586.8 362.1,583.4 363.1,588.7 364.1,586.7 365.2,586.1 366.2,591.4 367.2,587.3 368.2,589.1 369.2,597.4 370.2,598.9 371.2,596.4 372.2,593.7 373.2,597.1 374.2,597.6 375.3,595.2 376.3,597.4 377.3,595.1 378.3,592.5 379.3,591.3 380.3,592.5 381.3,528.5 382.3,494.5 383.3,495.3 384.3,499.2 385.4,503.9 386.4,499.3 387.4,499.2 388.4,496.3 389.4,497.6 390.4,489.0 391.4,487.8 392.4,492.1 393.4,489.9 394.4,486.3 395.5,485.8 396.5,483.4 397.5,486.8 398.5,483.0 399.5,483.7 400.5,485.9 401.5,483.1 402.5,480.2 403.5,479.9 404.5,481.9 405.6,480.7 406.6,484.5 407.6,482.8 408.6,478.5 409.6,481.5 410.6,483.4 411.6,480.5 412.6,479.3 413.6,479.5 414.6,481.8 415.7,481.3 416.7,480.8 417.7,478.7 418.7,475.9 419.7,470.1 420.7,466.7 421.7,470.5 422.7,470.6 423.7,465.7 424.7,463.8 425.8,467.0 426.8,468.8 427.8,470.7 428.8,468.4 429.8,464.9 430.8,466.7 431.8,468.7 432.8,466.1 433.8,469.7 434.8,466.3 435.9,461.7 436.9,463.4 437.9,463.2 438.9,463.4 439.9,460.3 440.9,458.1 441.9,466.5 442.9,461.4 443.9,462.1" fill="none" stroke="#f6b3b3" stroke-width="0.7"/>
<polyline points="350.0,589.2 351.0,585.8 352.0,590.3 353.0,586.6 354.0,576.5 355.1,573.9 356.1,571.0 357.1,570.8 358.1,564.7 359.1,561.2 360.1,558.0 361.1,563.2 362.1,562.3 363.1,564.1 364.1,562.7 365.2,561.7 366.2,562.5 367.2,562.1 368.2,559.0 369.2,556.5 370.2,554.6 371.2,552.1 372.2,545.7 373.2,544.6 374.2,541.6 375.3,534.6 376.3,535.4 377.3,532.7 378.3,536.7 379.3,540.6 380.3,539.9 381.3,543.6 382.3,542.3 383.3,539.9 384.3,542.1 385.4,545.8 386.4,538.8 387.4,538.9 388.4,538.8 389.4,536.6 390.4,537.2 391.4,536.2 392.4,539.9 393.4,534.7 394.4,535.3 395.5,542.9 396.5,538.0 397.5,538.7 398.5,541.4 399.5,538.9 400.5,527.9 401.5,512.8 402.5,509.6 403.5,506.3 404.5,510.3 405.6,505.2 406.6,504.7 407.6,508.3 408.6,507.0 409.6,503.4 410.6,504.9 411.6,506.6 412.6,508.7 413.6,507.4 414.6,503.7 415.7,508.4 416.7,501.8 417.7,507.7 418.7,502.1 419.7,507.6 420.7,501.9 421.7,504.3 422.7,506.2 423.7,506.2 424.7,505.2 425.8,505.9 426.8,508.5 427.8,496.8 428.8,481.5 429.8,475.1 430.8,479.5 431.8,486.0 432.8,480.9 433.8,483.4 434.8,483.4 435.9,489.9 436.9,482.8 437.9,486.7 438.9,479.2 439.9,480.4 440.9,479.7 441.9,476.6 442.9,486.2 443.9,485.2" fill="none" stroke="#b5cdea" stroke-width="0.7"/>
<polyline points="350.0,586.7 351.0,585.5 352.0,588.1 353.0,587.4 354.0,588.5 355.1,594.0 356.1,595.6 357.1,590.4 358.1,594.4 359.1,593.6 360.1,586.7 361.1,589.8 362.1,585.9 363.1,587.7 364.1,585.4 365.2,588.2 366.2,583.4 367.2,580.5 368.2,582.1 369.2,579.4 370.2,578.9 371.2,582.6 372.2,577.2 373.2,579.5 374.2,582.8 375.3,585.9 376.3,580.5 377.3,584.6 378.3,584.0 379.3,584.3 380.3,587.1 381.3,587.0 382.3,592.6 383.3,591.0 384.3,562.8 385.4,545.9 386.4,545.2 387.4,550.0 388.4,548.5 389.4,546.7 390.4,539.7 391.4,542.6 392.4,540.1 393.4,541.8 394.4,539.5 395.5,539.6 396.5,539.1 397.5,536.5 398.5,535.7 399.5,530.0 400.5,518.8 401.5,504.0 402.5,496.6 403.5,495.0 404.5,496.8 405.6,500.1 406.6,494.1 407.6,492.7 408.6,492.5 409.6,494.8 410.6,494.3 411.6,498.8 412.6,494.7 413.6,497.3 414.6,500.2 415.7,502.6 416.7,497.1 417.7,496.7 418.7,504.3 419.7,499.4 420.7,503.1 421.7,505.0 422.7,503.3 423.7,499.1 424.7,497.8 425.8,503.7 426.8,498.8 427.8,502.7 428.8,496.9 429.8,499.4 430.8,494.6 431.8,493.3 432.8,496.6 433.8,492.6 434.8,497.8 435.9,499.5 436.9,495.3 437.9,499.6 438.9,498.2 439.9,496.4 440.9,494.7 441.9,498.1 442.9,498.9 443.9,492.4" fill="none" stroke="#fbcba0" stroke-width="0.7"/>
<polyline points="350.0,600.2 351.0,601.7 352.0,599.0 353.0,601.7 354.0,602.8 355.1,599.6 356.1,594.6 357.1,596.0 358.1,596.6 359.1,602.4 360.1,599.4 361.1,602.3 362.1,603.6 363.1,604.5 364.1,603.7 365.2,596.8 366.2,598.1 367.2,598.7 368.2,599.1 369.2,605.5 370.2,604.7 371.2,601.8 372.2,601.0 373.2,600.1 374.2,600.2 375.3,608.5 376.3,600.5 377.3,568.9 378.3,560.7 379.3,563.2 380.3,559.4 381.3,562.5 382.3,553.1 383.3,552.9 384.3,555.3 385.4,557.0 386.4,550.1 387.4,553.7 388.4,550.7 389.4,551.2 390.4,554.8 391.4,556.0 392.4,554.3 393.4,556.2 394.4,559.1 395.5,558.0 396.5,553.5 397.5,562.0 398.5,562.6 399.5,557.4 400.5,561.6 401.5,559.6 402.5,560.9 403.5,562.9 404.5,545.7 405.6,542.0 406.6,528.0 407.6,531.8 408.6,529.1 409.6,534.3 410.6,535.2 411.6,532.9 412.6,538.9 413.6,538.1 414.6,536.3 415.7,545.4 416.7,545.8 417.7,544.1 418.7,538.7 419.7,540.2 420.7,544.1 421.7,543.1 422.7,544.7 423.7,541.8 424.7,543.2 425.8,532.5 426.8,526.5 427.8,521.9 428.8,520.1 429.8,513.8 430.8,523.1 431.8,520.2 432.8,513.2 433.8,514.9 434.8,518.5 435.9,512.9 436.9,516.0 437.9,513.8 438.9,520.5 439.9,525.2 440.9,526.3 441.9,533.1 442.9,533.2 443.9,519.5" fill="none" stroke="#b2d9b0" stroke-width="0.7"/>
<polyline points="350.0,584.1 351.0,582.8 352.0,581.9 353.0,580.5 354.0,580.7 355.1,580.6 356.1,586.2 357.1,585.5 358.1,584.6 359.1,587.3 360.1,587.5 361.1,592.6 362.1,592.2 363.1,594.2 364.1,590.2 365.2,587.3 366.2,587.3 367.2,583.7 368.2,580.7 369.2,575.0 370.2,573.1 371.2,573.3 372.2,568.7 373.2,571.5 374.2,568.9 375.3,570.9 376.3,571.1 377.3,566.7 378.3,569.5 379.3,569.1 380.3,565.1 381.3,566.0 382.3,569.3 383.3,566.7 384.3,569.2 385.4,569.0 386.4,571.8 387.4,568.8 388.4,570.5 389.4,569.7 390.4,570.6 391.4,574.0 392.4,573.9 393.4,574.5 394.4,574.3 395.5,574.3 396.5,572.9 397.5,571.1 398.5,573.7 399.5,570.2 400.5,571.5 401.5,571.3 402.5,568.6 403.5,569.9 404.5,570.3 405.6,569.2 406.6,567.9 407.6,571.2 408.6,567.0 409.6,571.7 410.6,568.5 411.6,568.2 412.6,572.4 413.6,568.9 414.6,571.1 415.7,570.3 416.7,573.3 417.7,573.3 418.7,572.9 419.7,569.4 420.7,573.2 421.7,569.7 422.7,567.6 423.7,566.3 424.7,563.0 425.8,537.5 426.8,523.3 427.8,520.7 428.8,522.5 429.8,518.1 430.8,516.5 431.8,514.8 432.8,518.0 433.8,515.1 434.8,520.7 435.9,521.0 436.9,521.2 437.9,521.2 438.9,524.5 439.9,520.7 440.9,521.5 441.9,521.7 442.9,520.7 443.9,520.4" fill="none" stroke="#f7e3ae" stroke-width="0.7"/>
<polyline points="349.9,596.2 350.9,595.1 351.9,594.8 352.9,588.6 353.9,592.0 354.9,587.2 356.0,583.1 357.0,586.2 358.0,581.6 359.0,579.4 360.0,581.1 361.0,577.3 362.0,573.6 363.0,573.3 364.0,570.2 365.1,572.1 366.1,570.1 367.1,569.4 368.1,565.5 369.1,561.5 370.1,562.0 371.1,559.4 372.1,559.9 373.1,555.2 374.1,556.5 375.2,552.9 376.2,548.1 377.2,545.2 378.2,545.6 379.2,546.8 380.2,544.9 381.2,544.5 382.2,543.3 383.2,539.3 384.2,542.2 385.2,537.3 386.3,536.5 387.3,540.7 388.3,538.0 389.3,536.5 390.3,538.5 391.3,535.3 392.3,531.6 393.3,535.4 394.3,531.5 395.4,533.3 396.4,529.6 397.4,526.7 398.4,529.8 399.4,530.0 400.4,528.7 401.4,525.2 402.4,527.4 403.4,526.2 404.4,522.9 405.5,519.5 406.5,521.7 407.5,521.4 408.5,519.6 409.5,522.5 410.5,519.2 411.5,521.2 412.5,518.3 413.5,515.8 414.5,520.7 415.6,517.0 416.6,516.1 417.6,518.2 418.6,516.9 419.6,511.9 420.6,511.3 421.6,515.9 422.6,511.9 423.6,509.8 424.6,513.5 425.6,510.7 426.7,513.5 427.7,511.0 428.7,508.7 429.7,509.0 430.7,507.7 431.7,511.6 432.7,509.8 433.7,506.5 434.7,508.0 435.8,508.6 436.8,508.8 437.8,505.2 438.8,507.5 439.8,510.7 440.8,506.0 441.8,508.7 442.8,507.9 443.8,509.2 444.8,507.7" fill="none" stroke="#8a2be2" stroke-width="3.5" stroke-linejoin="round" stroke-linecap="butt"/>
<text x="486.4" y="432" font-size="16.8" font-weight="bold" fill="#000">j</text>
<line x1="525.40" y1="452.60" x2="525.40" y2="629.80" stroke="#000" stroke-width="1.2"/>
<line x1="524.80" y1="629.30" x2="667.80" y2="629.30" stroke="#000" stroke-width="1.1"/>
<line x1="525.40" y1="615.80" x2="527.90" y2="615.80" stroke="#000" stroke-width="0.9"/>
<text x="519.5" y="619.1" font-size="11" text-anchor="end" fill="#000">0</text>
<line x1="525.40" y1="588.66" x2="527.90" y2="588.66" stroke="#000" stroke-width="0.9"/>
<text x="519.5" y="591.96" font-size="11" text-anchor="end" fill="#000">0.2</text>
<line x1="525.40" y1="561.52" x2="527.90" y2="561.52" stroke="#000" stroke-width="0.9"/>
<text x="519.5" y="564.82" font-size="11" text-anchor="end" fill="#000">0.4</text>
<line x1="525.40" y1="534.38" x2="527.90" y2="534.38" stroke="#000" stroke-width="0.9"/>
<text x="519.5" y="537.68" font-size="11" text-anchor="end" fill="#000">0.6</text>
<line x1="525.40" y1="507.24" x2="527.90" y2="507.24" stroke="#000" stroke-width="0.9"/>
<text x="519.5" y="510.54" font-size="11" text-anchor="end" fill="#000">0.8</text>
<line x1="525.40" y1="480.10" x2="527.90" y2="480.10" stroke="#000" stroke-width="0.9"/>
<text x="519.5" y="483.4" font-size="11" text-anchor="end" fill="#000">1</text>
<line x1="525.40" y1="452.96" x2="527.90" y2="452.96" stroke="#000" stroke-width="0.9"/>
<text x="519.5" y="456.26" font-size="11" text-anchor="end" fill="#000">1.2</text>
<line x1="525.40" y1="629.30" x2="525.40" y2="626.70" stroke="#000" stroke-width="0.9"/>
<text x="525.4" y="643" font-size="11" text-anchor="middle" fill="#000">0</text>
<line x1="572.70" y1="629.30" x2="572.70" y2="626.70" stroke="#000" stroke-width="0.9"/>
<text x="572.7" y="643" font-size="11" text-anchor="middle" fill="#000">10</text>
<line x1="620.00" y1="629.30" x2="620.00" y2="626.70" stroke="#000" stroke-width="0.9"/>
<text x="620.0" y="643" font-size="11" text-anchor="middle" fill="#000">20</text>
<line x1="667.30" y1="629.30" x2="667.30" y2="626.70" stroke="#000" stroke-width="0.9"/>
<text x="667.3" y="643" font-size="11" text-anchor="middle" fill="#000">30</text>
<text x="598.5" y="656.4" font-size="11" text-anchor="middle" fill="#000">Time (min)</text>
<text x="496.5" y="541.2" font-size="11" text-anchor="middle" fill="#000" transform="rotate(-90 496.5 541.2)">Absorbance (600 nm)</text>
<g fill="none" stroke="#000" stroke-width="1.35"><path d="M525.40 612.50L527.60 615.80L525.40 619.10L523.20 615.80Z"/><path d="M526.58 612.50L528.78 615.80L526.58 619.10L524.38 615.80Z"/><path d="M527.76 612.50L529.97 615.80L527.76 619.10L525.56 615.80Z"/><path d="M528.95 612.50L531.15 615.80L528.95 619.10L526.75 615.80Z"/><path d="M530.13 612.50L532.33 615.80L530.13 619.10L527.93 615.80Z"/><path d="M531.31 612.50L533.51 615.80L531.31 619.10L529.11 615.80Z"/><path d="M532.50 612.50L534.70 615.80L532.50 619.10L530.29 615.80Z"/><path d="M533.68 612.50L535.88 615.80L533.68 619.10L531.48 615.80Z"/><path d="M534.86 612.50L537.06 615.80L534.86 619.10L532.66 615.80Z"/><path d="M536.04 612.50L538.24 615.80L536.04 619.10L533.84 615.80Z"/><path d="M537.23 612.50L539.43 615.80L537.23 619.10L535.02 615.80Z"/><path d="M538.41 612.50L540.61 615.80L538.41 619.10L536.21 615.80Z"/><path d="M539.59 612.50L541.79 615.80L539.59 619.10L537.39 615.80Z"/><path d="M540.77 612.50L542.97 615.80L540.77 619.10L538.57 615.80Z"/><path d="M541.95 612.50L544.15 615.80L541.95 619.10L539.75 615.80Z"/><path d="M543.14 612.50L545.34 615.80L543.14 619.10L540.94 615.80Z"/><path d="M544.32 612.50L546.52 615.80L544.32 619.10L542.12 615.80Z"/><path d="M545.50 612.50L547.70 615.80L545.50 619.10L543.30 615.80Z"/><path d="M546.68 612.50L548.88 615.80L546.68 619.10L544.48 615.80Z"/><path d="M547.87 612.50L550.07 615.80L547.87 619.10L545.67 615.80Z"/><path d="M549.05 612.50L551.25 615.80L549.05 619.10L546.85 615.80Z"/><path d="M550.23 612.50L552.43 615.80L550.23 619.10L548.03 615.80Z"/><path d="M551.41 612.50L553.62 615.80L551.41 619.10L549.21 615.80Z"/><path d="M552.60 612.50L554.80 615.80L552.60 619.10L550.40 615.80Z"/><path d="M553.78 612.50L555.98 615.80L553.78 619.10L551.58 615.80Z"/><path d="M554.96 612.50L557.16 615.80L554.96 619.10L552.76 615.80Z"/><path d="M556.14 612.50L558.35 615.80L556.14 619.10L553.94 615.80Z"/><path d="M557.33 612.50L559.53 615.80L557.33 619.10L555.13 615.80Z"/><path d="M558.51 612.50L560.71 615.80L558.51 619.10L556.31 615.80Z"/><path d="M559.69 612.50L561.89 615.80L559.69 619.10L557.49 615.80Z"/><path d="M560.88 612.50L563.08 615.80L560.88 619.10L558.67 615.80Z"/><path d="M562.06 612.50L564.26 615.80L562.06 619.10L559.86 615.80Z"/><path d="M563.24 612.50L565.44 615.80L563.24 619.10L561.04 615.80Z"/><path d="M564.42 612.50L566.62 615.80L564.42 619.10L562.22 615.80Z"/><path d="M565.61 612.50L567.81 615.80L565.61 619.10L563.40 615.80Z"/><path d="M566.79 612.50L568.99 615.80L566.79 619.10L564.59 615.80Z"/><path d="M567.97 612.50L570.17 615.80L567.97 619.10L565.77 615.80Z"/><path d="M569.15 612.50L571.35 615.80L569.15 619.10L566.95 615.80Z"/><path d="M570.34 612.50L572.54 615.80L570.34 619.10L568.13 615.80Z"/><path d="M571.52 612.50L573.72 615.80L571.52 619.10L569.32 615.80Z"/><path d="M572.70 612.50L574.90 615.80L572.70 619.10L570.50 615.80Z"/><path d="M573.88 612.50L576.08 615.80L573.88 619.10L571.68 615.80Z"/><path d="M575.06 612.50L577.26 615.80L575.06 619.10L572.86 615.80Z"/><path d="M576.25 612.50L578.45 615.80L576.25 619.10L574.05 615.80Z"/><path d="M577.43 612.50L579.63 615.80L577.43 619.10L575.23 615.80Z"/><path d="M578.61 612.50L580.81 615.80L578.61 619.10L576.41 615.80Z"/><path d="M579.79 612.50L582.00 615.80L579.79 619.10L577.59 615.80Z"/><path d="M580.98 612.50L583.18 615.80L580.98 619.10L578.78 615.80Z"/><path d="M582.16 612.50L584.36 615.80L582.16 619.10L579.96 615.80Z"/><path d="M583.34 612.50L585.54 615.80L583.34 619.10L581.14 615.80Z"/><path d="M584.52 612.50L586.73 615.80L584.52 619.10L582.32 615.80Z"/><path d="M585.71 612.50L587.91 615.80L585.71 619.10L583.51 615.80Z"/><path d="M586.89 612.50L589.09 615.80L586.89 619.10L584.69 615.80Z"/><path d="M588.07 612.50L590.27 615.80L588.07 619.10L585.87 615.80Z"/><path d="M589.25 612.50L591.46 615.80L589.25 619.10L587.05 615.80Z"/><path d="M590.44 612.50L592.64 615.80L590.44 619.10L588.24 615.80Z"/><path d="M591.62 612.50L593.82 615.80L591.62 619.10L589.42 615.80Z"/><path d="M592.80 612.50L595.00 615.80L592.80 619.10L590.60 615.80Z"/><path d="M593.99 612.50L596.19 615.80L593.99 619.10L591.78 615.80Z"/><path d="M595.17 612.50L597.37 615.80L595.17 619.10L592.97 615.80Z"/><path d="M596.35 612.50L598.55 615.80L596.35 619.10L594.15 615.80Z"/><path d="M597.53 612.50L599.73 615.80L597.53 619.10L595.33 615.80Z"/><path d="M598.72 612.50L600.92 615.80L598.72 619.10L596.51 615.80Z"/><path d="M599.90 612.50L602.10 615.80L599.90 619.10L597.70 615.80Z"/><path d="M601.08 612.50L603.28 615.80L601.08 619.10L598.88 615.80Z"/><path d="M602.26 612.50L604.46 615.80L602.26 619.10L600.06 615.80Z"/><path d="M603.44 612.50L605.64 615.80L603.44 619.10L601.24 615.80Z"/><path d="M604.63 612.50L606.83 615.80L604.63 619.10L602.43 615.80Z"/><path d="M605.81 612.50L608.01 615.80L605.81 619.10L603.61 615.80Z"/><path d="M606.99 612.50L609.19 615.80L606.99 619.10L604.79 615.80Z"/><path d="M608.17 612.50L610.38 615.80L608.17 619.10L605.97 615.80Z"/><path d="M609.36 612.50L611.56 615.80L609.36 619.10L607.16 615.80Z"/><path d="M610.54 612.50L612.74 615.80L610.54 619.10L608.34 615.80Z"/><path d="M611.72 612.50L613.92 615.80L611.72 619.10L609.52 615.80Z"/><path d="M612.90 612.50L615.11 615.80L612.90 619.10L610.70 615.80Z"/><path d="M614.09 612.50L616.29 615.80L614.09 619.10L611.89 615.80Z"/><path d="M615.27 612.50L617.47 615.80L615.27 619.10L613.07 615.80Z"/><path d="M616.45 612.50L618.65 615.80L616.45 619.10L614.25 615.80Z"/><path d="M617.63 612.50L619.84 615.80L617.63 619.10L615.43 615.80Z"/><path d="M618.82 612.50L621.02 615.80L618.82 619.10L616.62 615.80Z"/><path d="M620.00 612.50L622.20 615.80L620.00 619.10L617.80 615.80Z"/><path d="M621.18 612.50L623.38 615.80L621.18 619.10L618.98 615.80Z"/><path d="M622.37 612.50L624.57 615.80L622.37 619.10L620.16 615.80Z"/><path d="M623.55 612.50L625.75 615.80L623.55 619.10L621.35 615.80Z"/><path d="M624.73 612.50L626.93 615.80L624.73 619.10L622.53 615.80Z"/><path d="M625.91 612.50L628.11 615.80L625.91 619.10L623.71 615.80Z"/><path d="M627.10 612.50L629.30 615.80L627.10 619.10L624.89 615.80Z"/><path d="M628.28 612.50L630.48 615.80L628.28 619.10L626.08 615.80Z"/><path d="M629.46 612.50L631.66 615.80L629.46 619.10L627.26 615.80Z"/><path d="M630.64 612.50L632.84 615.80L630.64 619.10L628.44 615.80Z"/><path d="M631.83 612.50L634.03 615.80L631.83 619.10L629.62 615.80Z"/><path d="M633.01 612.50L635.21 615.80L633.01 619.10L630.81 615.80Z"/><path d="M634.19 612.50L636.39 615.80L634.19 619.10L631.99 615.80Z"/><path d="M635.37 612.50L637.57 615.80L635.37 619.10L633.17 615.80Z"/><path d="M636.55 612.50L638.75 615.80L636.55 619.10L634.35 615.80Z"/><path d="M637.74 612.50L639.94 615.80L637.74 619.10L635.54 615.80Z"/><path d="M638.92 612.50L641.12 615.80L638.92 619.10L636.72 615.80Z"/><path d="M640.10 612.50L642.30 615.80L640.10 619.10L637.90 615.80Z"/><path d="M641.28 612.50L643.49 615.80L641.28 619.10L639.08 615.80Z"/><path d="M642.47 612.50L644.67 615.80L642.47 619.10L640.27 615.80Z"/><path d="M643.65 612.50L645.85 615.80L643.65 619.10L641.45 615.80Z"/><path d="M644.83 612.50L647.03 615.80L644.83 619.10L642.63 615.80Z"/><path d="M646.01 612.50L648.22 615.80L646.01 619.10L643.81 615.80Z"/><path d="M647.20 612.50L649.40 615.80L647.20 619.10L645.00 615.80Z"/><path d="M648.38 612.50L650.58 615.80L648.38 619.10L646.18 615.80Z"/><path d="M649.56 612.50L651.76 615.80L649.56 619.10L647.36 615.80Z"/><path d="M650.75 612.50L652.95 615.80L650.75 619.10L648.54 615.80Z"/><path d="M651.93 612.50L654.13 615.80L651.93 619.10L649.73 615.80Z"/><path d="M653.11 612.50L655.31 615.80L653.11 619.10L650.91 615.80Z"/><path d="M654.29 612.50L656.49 615.80L654.29 619.10L652.09 615.80Z"/><path d="M655.48 612.50L657.68 615.80L655.48 619.10L653.27 615.80Z"/><path d="M656.66 612.50L658.86 615.80L656.66 619.10L654.46 615.80Z"/><path d="M657.84 612.50L660.04 615.80L657.84 619.10L655.64 615.80Z"/><path d="M659.02 612.50L661.22 615.80L659.02 619.10L656.82 615.80Z"/><path d="M660.20 612.50L662.40 615.80L660.20 619.10L658.00 615.80Z"/><path d="M661.39 612.50L663.59 615.80L661.39 619.10L659.19 615.80Z"/><path d="M662.57 612.50L664.77 615.80L662.57 619.10L660.37 615.80Z"/><path d="M663.75 612.50L665.95 615.80L663.75 619.10L661.55 615.80Z"/><path d="M664.93 612.50L667.13 615.80L664.93 619.10L662.73 615.80Z"/><path d="M666.12 612.50L668.32 615.80L666.12 619.10L663.92 615.80Z"/><path d="M667.30 612.50L669.50 615.80L667.30 619.10L665.10 615.80Z"/></g>
<g fill="none" stroke="#8a2be2" stroke-width="1.4"><circle cx="525.40" cy="615.80" r="2.25"/><circle cx="526.58" cy="611.32" r="2.25"/><circle cx="527.76" cy="607.52" r="2.25"/><circle cx="528.95" cy="603.18" r="2.25"/><circle cx="530.13" cy="598.70" r="2.25"/><circle cx="531.31" cy="592.73" r="2.25"/><circle cx="532.50" cy="586.90" r="2.25"/><circle cx="533.68" cy="580.93" r="2.25"/><circle cx="534.86" cy="575.09" r="2.25"/><circle cx="536.04" cy="569.25" r="2.25"/><circle cx="537.23" cy="563.28" r="2.25"/><circle cx="538.41" cy="557.99" r="2.25"/><circle cx="539.59" cy="552.97" r="2.25"/><circle cx="540.77" cy="547.95" r="2.25"/><circle cx="541.95" cy="543.20" r="2.25"/><circle cx="543.14" cy="538.79" r="2.25"/><circle cx="544.32" cy="534.38" r="2.25"/><circle cx="545.50" cy="530.31" r="2.25"/><circle cx="546.68" cy="526.24" r="2.25"/><circle cx="547.87" cy="522.64" r="2.25"/><circle cx="549.05" cy="519.05" r="2.25"/><circle cx="550.23" cy="516.43" r="2.25"/><circle cx="551.41" cy="513.82" r="2.25"/><circle cx="552.60" cy="511.21" r="2.25"/><circle cx="553.78" cy="508.60" r="2.25"/><circle cx="554.96" cy="506.73" r="2.25"/><circle cx="556.14" cy="504.87" r="2.25"/><circle cx="557.33" cy="503.00" r="2.25"/><circle cx="558.51" cy="501.13" r="2.25"/><circle cx="559.69" cy="499.78" r="2.25"/><circle cx="560.88" cy="498.42" r="2.25"/><circle cx="562.06" cy="497.06" r="2.25"/><circle cx="563.24" cy="495.71" r="2.25"/><circle cx="564.42" cy="494.76" r="2.25"/><circle cx="565.61" cy="493.81" r="2.25"/><circle cx="566.79" cy="492.86" r="2.25"/><circle cx="567.97" cy="491.91" r="2.25"/><circle cx="569.15" cy="491.16" r="2.25"/><circle cx="570.34" cy="490.41" r="2.25"/><circle cx="571.52" cy="489.67" r="2.25"/><circle cx="572.70" cy="488.92" r="2.25"/><circle cx="573.88" cy="488.29" r="2.25"/><circle cx="575.06" cy="487.67" r="2.25"/><circle cx="576.25" cy="487.04" r="2.25"/><circle cx="577.43" cy="486.41" r="2.25"/><circle cx="578.61" cy="485.78" r="2.25"/><circle cx="579.79" cy="485.15" r="2.25"/><circle cx="580.98" cy="484.53" r="2.25"/><circle cx="582.16" cy="483.90" r="2.25"/><circle cx="583.34" cy="483.47" r="2.25"/><circle cx="584.52" cy="483.04" r="2.25"/><circle cx="585.71" cy="482.61" r="2.25"/><circle cx="586.89" cy="482.18" r="2.25"/><circle cx="588.07" cy="481.75" r="2.25"/><circle cx="589.25" cy="481.32" r="2.25"/><circle cx="590.44" cy="480.89" r="2.25"/><circle cx="591.62" cy="480.46" r="2.25"/><circle cx="592.80" cy="480.03" r="2.25"/><circle cx="593.99" cy="479.60" r="2.25"/><circle cx="595.17" cy="479.17" r="2.25"/><circle cx="596.35" cy="478.74" r="2.25"/><circle cx="597.53" cy="478.54" r="2.25"/><circle cx="598.72" cy="478.34" r="2.25"/><circle cx="599.90" cy="478.13" r="2.25"/><circle cx="601.08" cy="477.93" r="2.25"/><circle cx="602.26" cy="477.73" r="2.25"/><circle cx="603.44" cy="477.52" r="2.25"/><circle cx="604.63" cy="477.32" r="2.25"/><circle cx="605.81" cy="477.11" r="2.25"/><circle cx="606.99" cy="476.91" r="2.25"/><circle cx="608.17" cy="476.71" r="2.25"/><circle cx="609.36" cy="476.50" r="2.25"/><circle cx="610.54" cy="476.30" r="2.25"/><circle cx="611.72" cy="476.10" r="2.25"/><circle cx="612.90" cy="475.89" r="2.25"/><circle cx="614.09" cy="475.69" r="2.25"/><circle cx="615.27" cy="475.49" r="2.25"/><circle cx="616.45" cy="475.28" r="2.25"/><circle cx="617.63" cy="475.08" r="2.25"/><circle cx="618.82" cy="474.88" r="2.25"/><circle cx="620.00" cy="474.67" r="2.25"/><circle cx="621.18" cy="474.58" r="2.25"/><circle cx="622.37" cy="474.50" r="2.25"/><circle cx="623.55" cy="474.41" r="2.25"/><circle cx="624.73" cy="474.32" r="2.25"/><circle cx="625.91" cy="474.23" r="2.25"/><circle cx="627.10" cy="474.14" r="2.25"/><circle cx="628.28" cy="474.05" r="2.25"/><circle cx="629.46" cy="473.97" r="2.25"/><circle cx="630.64" cy="473.88" r="2.25"/><circle cx="631.83" cy="473.79" r="2.25"/><circle cx="633.01" cy="473.70" r="2.25"/><circle cx="634.19" cy="473.61" r="2.25"/><circle cx="635.37" cy="473.53" r="2.25"/><circle cx="636.55" cy="473.44" r="2.25"/><circle cx="637.74" cy="473.35" r="2.25"/><circle cx="638.92" cy="473.26" r="2.25"/><circle cx="640.10" cy="473.17" r="2.25"/><circle cx="641.28" cy="473.08" r="2.25"/><circle cx="642.47" cy="473.00" r="2.25"/><circle cx="643.65" cy="472.91" r="2.25"/><circle cx="644.83" cy="472.85" r="2.25"/><circle cx="646.01" cy="472.80" r="2.25"/><circle cx="647.20" cy="472.75" r="2.25"/><circle cx="648.38" cy="472.69" r="2.25"/><circle cx="649.56" cy="472.64" r="2.25"/><circle cx="650.75" cy="472.58" r="2.25"/><circle cx="651.93" cy="472.53" r="2.25"/><circle cx="653.11" cy="472.47" r="2.25"/><circle cx="654.29" cy="472.42" r="2.25"/><circle cx="655.48" cy="472.37" r="2.25"/><circle cx="656.66" cy="472.31" r="2.25"/><circle cx="657.84" cy="472.26" r="2.25"/><circle cx="659.02" cy="472.20" r="2.25"/><circle cx="660.20" cy="472.15" r="2.25"/><circle cx="661.39" cy="472.09" r="2.25"/><circle cx="662.57" cy="472.04" r="2.25"/><circle cx="663.75" cy="471.99" r="2.25"/><circle cx="664.93" cy="471.93" r="2.25"/><circle cx="666.12" cy="471.88" r="2.25"/><circle cx="667.30" cy="471.82" r="2.25"/></g>
<text x="549" y="467.2" font-size="11" fill="#000">+ HRV3C protease</text>
<text x="574" y="603.5" font-size="11" fill="#000">– HRV3C protease</text>
</svg></body></html>
